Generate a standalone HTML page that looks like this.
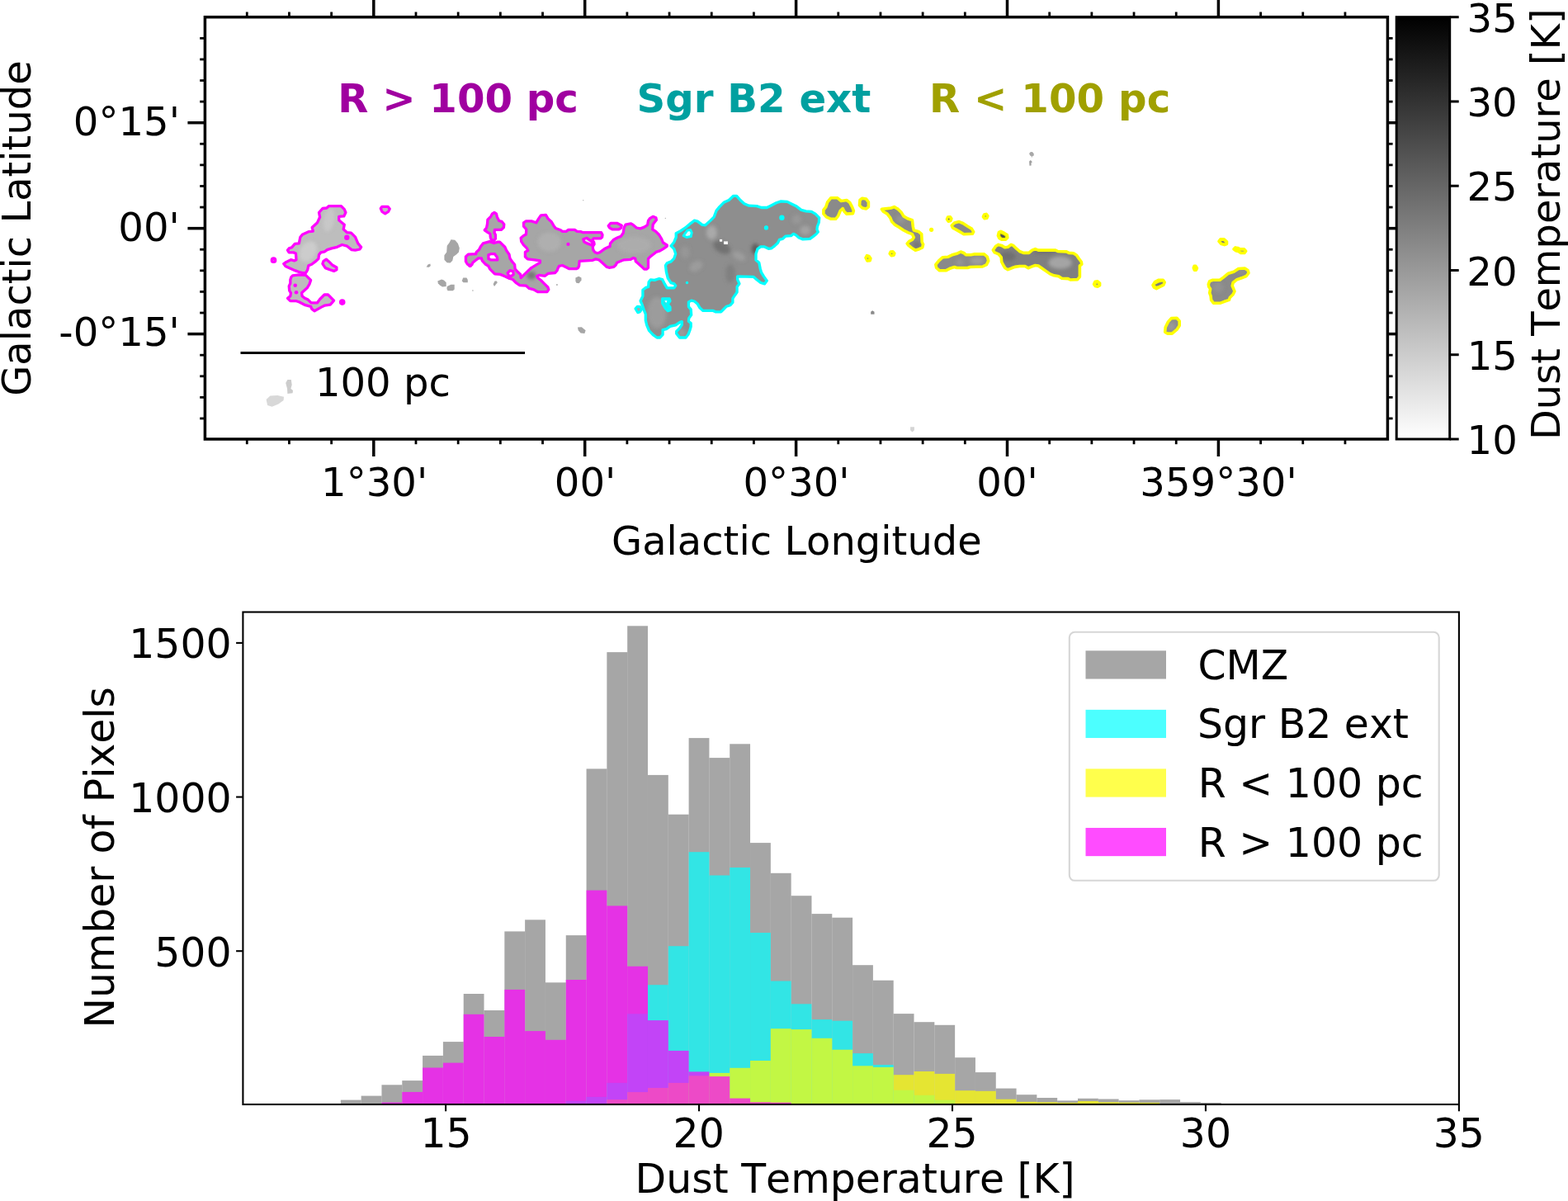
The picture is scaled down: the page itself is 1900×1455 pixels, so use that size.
<!DOCTYPE html>
<html lang="en">
<head>
<meta charset="utf-8">
<title>Dust temperature map and histogram</title>
<style>
html,body{margin:0;padding:0;background:#fff;}
body{width:1900px;height:1455px;overflow:hidden;}
svg{display:block;}
svg text{font-family:"DejaVu Sans","Liberation Sans",sans-serif;font-kerning:none;}
</style>
</head>
<body>
<svg width="1900" height="1455" viewBox="0 0 1900 1455">
<defs>
<linearGradient id="cbg" x1="0" y1="0" x2="0" y2="1">
<stop offset="0" stop-color="#000"/><stop offset="1" stop-color="#fff"/>
</linearGradient>
<filter id="soft" x="-5%" y="-5%" width="110%" height="110%"><feGaussianBlur stdDeviation="2.2"/></filter>
</defs>
<rect x="0" y="0" width="1900" height="1455" fill="#fff"/>
<g id="map">
<clipPath id="mapclip"><path d="M398.6,249.6 L413.4,249.6 L417.3,253.6 L418.9,257.5 L416.7,261.9 L410.7,262.4 L410.7,266.8 L417.3,272.3 L416.2,277.8 L420.6,281.7 L425.5,282.2 L430.5,287.2 L433.8,294.9 L437.6,299.3 L436.0,302.0 L430.5,303.1 L426.1,302.6 L420.6,298.2 L414.5,296.5 L408.5,299.3 L401.9,300.9 L396.4,302.6 L393.6,304.8 L388.7,305.9 L386.5,308.6 L385.9,313.6 L382.1,316.9 L377.7,320.2 L373.8,321.8 L372.7,326.8 L370.5,330.6 L366.7,330.6 L362.3,329.5 L357.9,327.9 L350.2,324.6 L345.8,322.4 L343.8,319.6 L346.9,317.4 L352.4,314.7 L356.8,315.8 L359.0,314.7 L358.4,307.0 L355.7,305.9 L350.2,305.9 L348.5,303.1 L350.2,300.9 L353.5,299.8 L357.3,295.4 L362.3,294.9 L363.9,287.2 L366.7,283.9 L374.4,280.6 L379.3,280.0 L378.2,275.6 L384.3,270.1 L387.6,263.0 L386.5,257.5 L390.9,252.5 L395.8,252.0Z"/><path d="M354.6,333.9 L362.3,332.8 L370.5,333.4 L376.6,339.4 L374.9,344.4 L372.2,348.8 L365.6,354.8 L366.1,358.7 L368.9,360.9 L373.3,363.1 L377.1,366.9 L384.3,366.9 L387.6,362.5 L393.1,357.0 L397.5,357.0 L404.6,364.2 L400.2,369.1 L393.1,370.2 L389.8,371.9 L381.0,376.8 L377.7,374.1 L376.6,371.3 L370.0,369.7 L362.3,365.8 L359.0,364.7 L351.8,364.7 L348.5,361.4 L351.8,358.7 L352.4,354.8 L350.7,352.1 L350.2,346.6 L351.8,343.3 L351.8,338.9 L352.9,335.6Z"/><path d="M461.3,252.5 L462.9,250.3 L470.0,250.3 L472.2,253.1 L470.6,256.4 L466.7,258.8 L462.9,256.4Z"/><path d="M390.9,319.6 L392.0,316.3 L395.3,314.1 L398.6,316.9 L403.0,321.3 L407.9,324.0 L407.9,326.8 L404.6,328.4 L399.7,326.8 L394.2,324.6Z"/><path d="M546.4,290.2 L551.2,290.7 L554.9,294.9 L556.8,300.6 L555.9,305.4 L553.1,308.2 L549.3,311.0 L548.3,315.8 L545.5,318.6 L541.7,318.2 L538.4,314.8 L538.4,309.2 L541.2,305.4 L541.7,297.8 L544.5,294.0Z"/><path d="M516.6,323.4 L518.5,320.5 L521.3,319.6 L521.8,321.9 L519.9,323.8Z"/><path d="M530.3,340.4 L535.1,338.5 L537.9,339.5 L540.7,342.3 L540.7,347.0 L536.0,347.5 L532.7,345.2 L530.8,343.3Z"/><path d="M541.7,347.0 L546.4,344.7 L550.7,344.7 L550.7,350.4 L548.8,352.3 L542.6,352.3 L541.4,349.9Z"/><path d="M561.1,336.6 L565.4,336.6 L566.8,339.0 L566.8,342.3 L561.6,342.3 L559.7,340.4Z"/><path d="M597.6,344.2 L599.5,340.4 L601.8,340.4 L602.8,342.3 L600.4,345.2 L599.0,347.0Z"/><path d="M697.4,336.6 L701.2,334.7 L704.5,336.6 L704.5,339.5 L701.6,343.3 L698.3,342.8 L697.4,340.4Z"/><path d="M599.0,257.5 L601.4,258.9 L602.3,262.7 L604.7,267.5 L608.0,268.4 L610.8,271.7 L610.4,275.5 L607.5,278.4 L599.5,278.4 L599.0,281.7 L600.4,284.5 L600.4,289.3 L598.5,291.6 L595.2,290.2 L594.3,287.4 L593.8,283.1 L590.5,281.2 L587.2,278.8 L589.5,276.0 L590.5,271.3 L590.9,266.1 L594.7,262.3 L596.6,258.9Z"/><path d="M653.5,333.3 L650.6,334.7 L651.6,336.6 L655.4,339.5 L659.2,343.3 L663.9,348.0 L664.8,350.8 L662.9,353.7 L651.6,353.7 L646.8,350.8 L641.2,349.4 L637.4,346.1 L629.8,345.6 L625.0,342.3 L621.3,338.5 L616.5,337.1 L611.8,334.7 L606.1,332.4 L599.5,331.9 L593.8,326.2 L591.9,322.4 L588.1,320.0 L584.3,315.8 L583.4,312.9 L579.6,312.9 L575.8,315.8 L572.9,318.2 L572.0,320.5 L569.6,322.4 L566.3,320.0 L564.4,316.7 L564.4,311.0 L567.3,308.2 L576.7,307.7 L577.2,305.4 L580.5,302.5 L582.4,298.7 L585.3,294.9 L593.3,292.6 L598.5,294.5 L603.3,293.1 L605.6,293.1 L611.8,299.2 L613.7,303.5 L617.0,308.2 L617.9,312.9 L620.3,316.7 L623.6,320.5 L624.1,325.7 L626.9,329.0 L630.7,332.4 L631.2,336.6 L635.5,332.4 L644.0,324.3 L654.4,318.2 L654.4,315.8 L647.8,314.8 L639.3,313.9 L636.4,311.0 L636.4,305.4 L639.7,303.5 L638.3,300.6 L634.5,296.8 L631.7,292.6 L631.2,288.3 L634.5,285.5 L637.4,284.1 L637.8,277.9 L634.5,274.1 L634.5,269.8 L637.4,267.9 L644.0,267.9 L649.7,269.8 L652.5,265.1 L655.4,260.8 L661.4,260.4 L664.2,265.1 L668.0,268.4 L670.8,273.2 L673.2,276.5 L679.4,278.8 L681.3,280.3 L686.0,280.3 L688.8,278.4 L696.4,278.4 L699.3,280.3 L704.0,280.7 L706.8,281.7 L728.6,281.7 L730.0,284.5 L729.6,287.4 L727.7,288.8 L719.2,288.8 L717.7,291.2 L719.6,293.1 L720.1,295.9 L718.2,298.7 L718.7,302.5 L720.6,305.4 L723.9,306.8 L726.7,305.8 L732.4,301.6 L737.2,299.2 L739.0,298.7 L739.5,294.9 L743.8,290.2 L748.5,287.8 L752.3,286.4 L755.2,282.2 L756.1,276.0 L758.0,272.2 L764.6,270.8 L767.5,272.7 L771.3,276.0 L776.0,276.9 L780.7,275.1 L784.5,272.7 L785.5,267.5 L787.4,264.6 L791.2,262.3 L794.9,263.7 L795.4,266.5 L793.0,269.4 L791.2,272.2 L790.7,277.9 L794.9,280.7 L798.7,284.5 L801.6,289.3 L803.5,294.0 L808.2,296.8 L808.2,298.3 L803.5,301.6 L799.7,303.9 L794.9,305.4 L792.1,307.7 L788.3,310.6 L785.5,313.4 L785.5,324.3 L783.6,326.2 L780.7,326.2 L776.9,322.4 L772.2,318.2 L770.3,316.7 L769.8,313.4 L767.5,312.5 L763.7,314.4 L756.1,314.8 L752.3,316.3 L747.6,318.2 L746.2,321.0 L743.8,323.4 L738.1,324.3 L735.3,323.4 L730.5,319.1 L725.8,314.8 L722.0,313.9 L718.2,315.3 L702.1,316.3 L701.6,322.4 L700.2,324.8 L698.3,325.7 L689.8,325.7 L686.0,323.8 L681.3,321.5 L677.5,322.4 L676.1,324.8 L675.1,327.6 L672.7,330.5 L664.2,331.4 L660.4,334.3Z"/><path d="M737.2,273.6 L740.0,270.3 L747.6,270.3 L753.3,273.2 L752.3,276.5 L749.5,277.9 L741.9,277.9 L738.6,276.0Z"/><path d="M806.4,321.6 L808.3,318.8 L813.1,316.9 L816.8,313.1 L818.7,307.4 L816.8,301.7 L813.1,297.9 L816.8,293.2 L819.2,287.5 L819.2,282.8 L824.4,279.9 L830.1,276.2 L835.8,271.4 L841.5,267.2 L845.3,268.1 L850.9,272.4 L854.7,272.8 L860.4,267.6 L865.2,262.9 L868.0,255.3 L871.8,250.6 L877.5,244.9 L883.2,242.5 L888.8,237.3 L892.6,237.3 L897.1,242.5 L901.8,246.8 L907.5,249.2 L916.9,249.6 L922.6,251.5 L929.3,251.5 L934.9,248.7 L940.6,245.8 L946.3,243.9 L953.9,244.4 L959.6,247.3 L965.3,250.1 L970.9,254.4 L976.6,255.8 L983.3,256.3 L988.0,259.1 L992.7,263.8 L992.3,269.5 L990.4,274.3 L989.9,278.1 L991.3,280.9 L988.9,283.7 L985.2,286.6 L981.4,289.4 L972.8,289.9 L968.1,288.0 L964.3,284.7 L961.5,283.3 L958.6,285.6 L952.0,286.1 L948.2,289.4 L944.4,290.4 L942.5,294.2 L938.7,297.9 L934.9,300.8 L931.2,301.3 L926.4,298.9 L921.7,298.9 L917.9,301.7 L916.0,307.4 L916.0,315.0 L919.8,318.3 L921.2,325.4 L922.6,330.2 L925.5,334.9 L929.3,340.1 L926.4,343.9 L921.7,342.5 L916.9,338.7 L913.2,335.4 L893.7,334.9 L893.6,338.5 L895.9,343.7 L893.1,347.5 L893.1,354.1 L890.3,357.9 L887.9,361.7 L887.9,366.4 L885.0,369.7 L880.3,371.2 L877.5,374.0 L873.7,377.8 L867.0,377.8 L864.2,376.4 L851.9,376.4 L848.1,373.1 L845.3,368.3 L841.5,365.0 L837.7,364.1 L834.4,365.9 L834.4,371.6 L837.2,374.9 L837.7,381.6 L834.8,385.4 L834.4,389.2 L837.2,391.5 L837.2,395.8 L835.8,400.5 L833.9,405.3 L831.0,409.0 L823.5,409.0 L819.7,404.3 L819.7,401.5 L823.5,397.7 L826.3,393.4 L826.3,389.6 L823.5,390.6 L818.7,393.9 L812.1,395.3 L807.4,398.6 L803.1,399.6 L803.1,405.3 L799.8,409.0 L796.0,409.0 L791.3,405.7 L786.5,400.5 L783.7,393.9 L782.3,388.2 L782.3,380.6 L780.4,375.9 L778.5,370.2 L776.1,364.5 L778.9,358.8 L778.9,351.3 L782.7,348.4 L785.6,347.5 L786.1,341.8 L788.4,338.9 L793.2,339.4 L798.8,337.5 L802.6,338.5 L805.5,344.2 L808.3,348.9 L816.8,348.9 L818.7,346.1 L816.8,343.7 L813.1,342.7 L809.3,337.1 L807.4,329.5Z"/><path d="M769.9,374.0 L772.3,371.2 L775.6,371.6 L777.5,374.9 L775.6,377.8 L772.8,378.7Z"/><path d="M802.6,361.7 L811.2,361.7 L812.1,364.5 L809.3,368.3 L812.1,372.1 L812.1,375.9 L809.3,376.8 L806.4,374.0 L802.6,367.4Z"/><path d="M1006.9,239.7 L1014.5,239.7 L1019.3,243.5 L1025.9,242.5 L1029.7,245.4 L1032.5,250.6 L1034.4,255.3 L1033.5,258.6 L1025.9,259.1 L1023.0,256.3 L1021.2,252.5 L1018.3,255.3 L1015.5,261.9 L1012.6,265.3 L1006.9,265.3 L1001.3,262.9 L997.9,259.1 L997.9,254.4 L1000.8,250.6 L1002.7,244.9Z"/><path d="M1042.0,242.5 L1044.8,240.2 L1049.6,241.1 L1052.4,244.9 L1052.4,250.6 L1049.6,252.9 L1044.8,252.0 L1041.5,248.7Z"/><path d="M1049.0,312.3 L1050.5,309.7 L1053.1,310.5 L1054.9,313.0 L1054.2,315.6 L1050.9,316.0Z"/><path d="M1068.4,253.4 L1079.8,252.0 L1083.6,250.6 L1088.3,253.4 L1092.1,257.2 L1094.9,261.9 L1099.7,264.8 L1105.4,266.7 L1106.3,274.3 L1107.3,279.0 L1112.9,280.4 L1116.7,283.7 L1117.2,293.2 L1118.6,296.0 L1117.7,299.8 L1113.9,301.7 L1109.2,303.2 L1105.4,300.8 L1100.6,297.0 L1099.2,295.1 L1101.6,292.3 L1105.4,290.4 L1107.3,287.5 L1105.4,283.7 L1100.6,281.8 L1094.9,279.0 L1089.3,275.2 L1084.5,272.4 L1080.7,268.6 L1078.8,263.8 L1075.1,259.1 L1070.3,256.3Z"/><path d="M1147.4,265.6 L1148.5,263.1 L1151.4,262.7 L1152.9,264.9 L1151.8,267.5 L1149.2,268.2Z"/><path d="M1191.4,262.7 L1192.5,260.1 L1195.1,259.4 L1196.9,261.6 L1195.8,264.2 L1192.9,264.6Z"/><path d="M1153.2,273.3 L1156.5,270.0 L1162.2,268.6 L1166.9,270.5 L1172.6,274.3 L1177.4,277.1 L1179.7,280.9 L1178.3,283.3 L1167.9,283.7 L1163.2,280.9 L1158.4,278.1 L1154.6,276.2Z"/><path d="M1133.8,320.7 L1137.6,315.9 L1142.3,311.7 L1148.9,311.2 L1153.7,308.8 L1160.3,306.9 L1164.1,305.0 L1167.9,306.5 L1170.7,308.8 L1176.4,308.8 L1180.2,307.9 L1192.5,307.9 L1196.3,311.2 L1197.7,315.9 L1195.4,320.7 L1190.6,323.0 L1175.5,323.5 L1172.6,324.5 L1159.4,324.5 L1156.5,323.5 L1151.8,324.9 L1146.1,327.8 L1138.5,327.8 L1134.7,324.5Z"/><path d="M1078.2,307.4 L1079.3,305.1 L1081.9,304.8 L1083.8,307.0 L1083.0,309.2 L1080.1,309.6Z"/><path d="M1209.4,285.5 L1210.4,281.3 L1212.7,280.3 L1216.5,282.2 L1220.3,284.6 L1220.8,287.9 L1218.4,290.3 L1213.7,290.3 L1210.8,288.4Z"/><path d="M1212.3,283.6 L1216.1,285.1 L1217.9,286.5 L1217.7,288.1 L1214.2,287.7 L1212.5,286.0Z"/><path d="M1203.3,303.1 L1206.6,298.3 L1209.9,296.4 L1213.7,297.4 L1217.5,299.7 L1221.3,299.3 L1225.1,296.4 L1227.9,297.4 L1231.7,301.2 L1235.5,304.5 L1240.2,306.4 L1246.8,306.4 L1250.6,303.1 L1254.4,301.6 L1258.2,303.1 L1279.0,303.1 L1281.9,304.5 L1292.3,304.9 L1295.2,306.4 L1300.8,306.8 L1304.6,309.2 L1307.5,313.5 L1310.3,317.3 L1310.8,320.1 L1308.4,322.0 L1308.4,335.3 L1305.6,338.6 L1297.0,339.0 L1294.2,337.6 L1286.6,337.2 L1282.8,334.8 L1277.2,333.8 L1272.4,331.9 L1267.7,328.6 L1262.9,325.3 L1258.2,322.0 L1254.4,321.5 L1250.6,322.9 L1245.9,324.8 L1242.1,322.5 L1235.5,322.5 L1229.8,323.4 L1226.0,324.8 L1221.3,326.7 L1217.9,324.8 L1215.6,321.0 L1213.7,317.3 L1213.2,311.6 L1209.9,307.8 L1205.2,305.9Z"/><path d="M1325.6,344.2 L1327.0,341.3 L1330.0,340.9 L1332.6,343.1 L1332.6,345.7 L1330.0,347.2 L1327.0,346.4Z"/><path d="M1477.0,292.3 L1478.9,289.9 L1483.2,289.9 L1486.5,292.8 L1486.5,295.6 L1483.7,296.6 L1479.9,295.6Z"/><path d="M1478.9,292.3 L1482.3,292.1 L1484.6,294.2 L1481.8,294.7Z"/><path d="M1495.0,301.8 L1496.9,299.9 L1499.8,300.4 L1502.6,301.8 L1507.4,301.8 L1509.7,304.2 L1507.8,306.5 L1503.6,306.5 L1500.7,304.6 L1497.4,303.7Z"/><path d="M1502.6,303.4 L1507.4,303.4 L1507.4,304.8 L1503.1,304.8Z"/><path d="M1446.3,324.6 L1447.1,322.4 L1448.9,322.4 L1450.4,324.9 L1449.3,327.2 L1447.4,327.2Z"/><path d="M1397.0,345.4 L1399.4,341.6 L1404.1,339.2 L1409.3,339.2 L1411.2,342.1 L1409.8,345.4 L1405.1,347.7 L1401.3,349.6 L1398.4,348.2Z"/><path d="M1399.4,344.9 L1404.1,342.5 L1408.8,341.6 L1409.3,343.5 L1405.1,345.4 L1401.3,346.8Z"/><path d="M1464.3,344.4 L1465.7,340.6 L1469.5,339.2 L1478.0,339.2 L1482.7,335.9 L1488.4,331.2 L1495.0,329.3 L1500.7,325.5 L1508.3,325.0 L1512.1,327.4 L1513.0,330.7 L1510.2,334.5 L1504.5,336.8 L1498.8,338.7 L1494.1,342.5 L1493.2,346.3 L1496.0,352.9 L1494.1,356.7 L1490.3,360.5 L1489.4,363.4 L1483.7,365.3 L1478.9,367.2 L1470.4,367.2 L1467.6,363.4 L1467.1,358.6 L1465.7,354.8 L1466.6,350.1 L1464.7,347.3Z"/><path d="M1411.7,402.2 L1412.2,396.5 L1415.5,389.9 L1419.3,385.6 L1425.9,385.2 L1429.2,388.9 L1429.2,394.6 L1425.9,399.4 L1420.2,404.1 L1414.5,404.1Z"/><path d="M700.0,396.6 L704.8,396.2 L709.6,400.3 L708.4,403.9 L703.6,403.4 L700.7,400.3Z"/><path d="M1055.2,377.7 L1057.1,376.3 L1059.5,377.7 L1059.5,380.7 L1055.2,380.7Z"/><path d="M1103.1,517.2 L1107.9,517.2 L1107.9,521.3 L1105.5,523.5 L1103.1,521.3Z"/><path d="M1247.1,186.0 L1248.5,184.2 L1250.9,184.1 L1252.8,186.3 L1252.6,188.7 L1250.9,189.1 L1250.8,190.6 L1249.9,190.6 L1249.7,189.1 L1248.2,188.4Z"/><path d="M1247.1,195.6 L1248.9,194.0 L1250.9,196.3 L1249.6,197.3 L1249.6,200.4 L1247.5,200.7Z"/><path d="M322.6,484.0 L327.4,479.6 L336.3,479.1 L344.0,480.7 L343.6,485.1 L337.4,489.5 L329.6,492.8 L324.1,491.1Z"/><path d="M346.2,464.1 L348.4,460.1 L352.8,460.1 L353.7,466.3 L352.4,470.7 L355.0,472.9 L354.6,476.3 L348.4,476.9 L348.0,470.7Z"/></clipPath>
<g id="mapfill"><path d="M398.6,249.6 L413.4,249.6 L417.3,253.6 L418.9,257.5 L416.7,261.9 L410.7,262.4 L410.7,266.8 L417.3,272.3 L416.2,277.8 L420.6,281.7 L425.5,282.2 L430.5,287.2 L433.8,294.9 L437.6,299.3 L436.0,302.0 L430.5,303.1 L426.1,302.6 L420.6,298.2 L414.5,296.5 L408.5,299.3 L401.9,300.9 L396.4,302.6 L393.6,304.8 L388.7,305.9 L386.5,308.6 L385.9,313.6 L382.1,316.9 L377.7,320.2 L373.8,321.8 L372.7,326.8 L370.5,330.6 L366.7,330.6 L362.3,329.5 L357.9,327.9 L350.2,324.6 L345.8,322.4 L343.8,319.6 L346.9,317.4 L352.4,314.7 L356.8,315.8 L359.0,314.7 L358.4,307.0 L355.7,305.9 L350.2,305.9 L348.5,303.1 L350.2,300.9 L353.5,299.8 L357.3,295.4 L362.3,294.9 L363.9,287.2 L366.7,283.9 L374.4,280.6 L379.3,280.0 L378.2,275.6 L384.3,270.1 L387.6,263.0 L386.5,257.5 L390.9,252.5 L395.8,252.0Z" fill="#bdbdbd"/>
<path d="M354.6,333.9 L362.3,332.8 L370.5,333.4 L376.6,339.4 L374.9,344.4 L372.2,348.8 L365.6,354.8 L366.1,358.7 L368.9,360.9 L373.3,363.1 L377.1,366.9 L384.3,366.9 L387.6,362.5 L393.1,357.0 L397.5,357.0 L404.6,364.2 L400.2,369.1 L393.1,370.2 L389.8,371.9 L381.0,376.8 L377.7,374.1 L376.6,371.3 L370.0,369.7 L362.3,365.8 L359.0,364.7 L351.8,364.7 L348.5,361.4 L351.8,358.7 L352.4,354.8 L350.7,352.1 L350.2,346.6 L351.8,343.3 L351.8,338.9 L352.9,335.6Z" fill="#bdbdbd"/>
<path d="M461.3,252.5 L462.9,250.3 L470.0,250.3 L472.2,253.1 L470.6,256.4 L466.7,258.8 L462.9,256.4Z" fill="#bdbdbd"/>
<path d="M390.9,319.6 L392.0,316.3 L395.3,314.1 L398.6,316.9 L403.0,321.3 L407.9,324.0 L407.9,326.8 L404.6,328.4 L399.7,326.8 L394.2,324.6Z" fill="#bdbdbd"/>
<path d="M546.4,290.2 L551.2,290.7 L554.9,294.9 L556.8,300.6 L555.9,305.4 L553.1,308.2 L549.3,311.0 L548.3,315.8 L545.5,318.6 L541.7,318.2 L538.4,314.8 L538.4,309.2 L541.2,305.4 L541.7,297.8 L544.5,294.0Z" fill="#a6a6a6"/>
<path d="M516.6,323.4 L518.5,320.5 L521.3,319.6 L521.8,321.9 L519.9,323.8Z" fill="#a6a6a6"/>
<path d="M530.3,340.4 L535.1,338.5 L537.9,339.5 L540.7,342.3 L540.7,347.0 L536.0,347.5 L532.7,345.2 L530.8,343.3Z" fill="#a6a6a6"/>
<path d="M541.7,347.0 L546.4,344.7 L550.7,344.7 L550.7,350.4 L548.8,352.3 L542.6,352.3 L541.4,349.9Z" fill="#a6a6a6"/>
<path d="M561.1,336.6 L565.4,336.6 L566.8,339.0 L566.8,342.3 L561.6,342.3 L559.7,340.4Z" fill="#a6a6a6"/>
<path d="M597.6,344.2 L599.5,340.4 L601.8,340.4 L602.8,342.3 L600.4,345.2 L599.0,347.0Z" fill="#a6a6a6"/>
<path d="M697.4,336.6 L701.2,334.7 L704.5,336.6 L704.5,339.5 L701.6,343.3 L698.3,342.8 L697.4,340.4Z" fill="#a6a6a6"/>
<path d="M599.0,257.5 L601.4,258.9 L602.3,262.7 L604.7,267.5 L608.0,268.4 L610.8,271.7 L610.4,275.5 L607.5,278.4 L599.5,278.4 L599.0,281.7 L600.4,284.5 L600.4,289.3 L598.5,291.6 L595.2,290.2 L594.3,287.4 L593.8,283.1 L590.5,281.2 L587.2,278.8 L589.5,276.0 L590.5,271.3 L590.9,266.1 L594.7,262.3 L596.6,258.9Z" fill="#a6a6a6"/>
<path d="M653.5,333.3 L650.6,334.7 L651.6,336.6 L655.4,339.5 L659.2,343.3 L663.9,348.0 L664.8,350.8 L662.9,353.7 L651.6,353.7 L646.8,350.8 L641.2,349.4 L637.4,346.1 L629.8,345.6 L625.0,342.3 L621.3,338.5 L616.5,337.1 L611.8,334.7 L606.1,332.4 L599.5,331.9 L593.8,326.2 L591.9,322.4 L588.1,320.0 L584.3,315.8 L583.4,312.9 L579.6,312.9 L575.8,315.8 L572.9,318.2 L572.0,320.5 L569.6,322.4 L566.3,320.0 L564.4,316.7 L564.4,311.0 L567.3,308.2 L576.7,307.7 L577.2,305.4 L580.5,302.5 L582.4,298.7 L585.3,294.9 L593.3,292.6 L598.5,294.5 L603.3,293.1 L605.6,293.1 L611.8,299.2 L613.7,303.5 L617.0,308.2 L617.9,312.9 L620.3,316.7 L623.6,320.5 L624.1,325.7 L626.9,329.0 L630.7,332.4 L631.2,336.6 L635.5,332.4 L644.0,324.3 L654.4,318.2 L654.4,315.8 L647.8,314.8 L639.3,313.9 L636.4,311.0 L636.4,305.4 L639.7,303.5 L638.3,300.6 L634.5,296.8 L631.7,292.6 L631.2,288.3 L634.5,285.5 L637.4,284.1 L637.8,277.9 L634.5,274.1 L634.5,269.8 L637.4,267.9 L644.0,267.9 L649.7,269.8 L652.5,265.1 L655.4,260.8 L661.4,260.4 L664.2,265.1 L668.0,268.4 L670.8,273.2 L673.2,276.5 L679.4,278.8 L681.3,280.3 L686.0,280.3 L688.8,278.4 L696.4,278.4 L699.3,280.3 L704.0,280.7 L706.8,281.7 L728.6,281.7 L730.0,284.5 L729.6,287.4 L727.7,288.8 L719.2,288.8 L717.7,291.2 L719.6,293.1 L720.1,295.9 L718.2,298.7 L718.7,302.5 L720.6,305.4 L723.9,306.8 L726.7,305.8 L732.4,301.6 L737.2,299.2 L739.0,298.7 L739.5,294.9 L743.8,290.2 L748.5,287.8 L752.3,286.4 L755.2,282.2 L756.1,276.0 L758.0,272.2 L764.6,270.8 L767.5,272.7 L771.3,276.0 L776.0,276.9 L780.7,275.1 L784.5,272.7 L785.5,267.5 L787.4,264.6 L791.2,262.3 L794.9,263.7 L795.4,266.5 L793.0,269.4 L791.2,272.2 L790.7,277.9 L794.9,280.7 L798.7,284.5 L801.6,289.3 L803.5,294.0 L808.2,296.8 L808.2,298.3 L803.5,301.6 L799.7,303.9 L794.9,305.4 L792.1,307.7 L788.3,310.6 L785.5,313.4 L785.5,324.3 L783.6,326.2 L780.7,326.2 L776.9,322.4 L772.2,318.2 L770.3,316.7 L769.8,313.4 L767.5,312.5 L763.7,314.4 L756.1,314.8 L752.3,316.3 L747.6,318.2 L746.2,321.0 L743.8,323.4 L738.1,324.3 L735.3,323.4 L730.5,319.1 L725.8,314.8 L722.0,313.9 L718.2,315.3 L702.1,316.3 L701.6,322.4 L700.2,324.8 L698.3,325.7 L689.8,325.7 L686.0,323.8 L681.3,321.5 L677.5,322.4 L676.1,324.8 L675.1,327.6 L672.7,330.5 L664.2,331.4 L660.4,334.3Z" fill="#a6a6a6"/>
<path d="M737.2,273.6 L740.0,270.3 L747.6,270.3 L753.3,273.2 L752.3,276.5 L749.5,277.9 L741.9,277.9 L738.6,276.0Z" fill="#a6a6a6"/>
<path d="M806.4,321.6 L808.3,318.8 L813.1,316.9 L816.8,313.1 L818.7,307.4 L816.8,301.7 L813.1,297.9 L816.8,293.2 L819.2,287.5 L819.2,282.8 L824.4,279.9 L830.1,276.2 L835.8,271.4 L841.5,267.2 L845.3,268.1 L850.9,272.4 L854.7,272.8 L860.4,267.6 L865.2,262.9 L868.0,255.3 L871.8,250.6 L877.5,244.9 L883.2,242.5 L888.8,237.3 L892.6,237.3 L897.1,242.5 L901.8,246.8 L907.5,249.2 L916.9,249.6 L922.6,251.5 L929.3,251.5 L934.9,248.7 L940.6,245.8 L946.3,243.9 L953.9,244.4 L959.6,247.3 L965.3,250.1 L970.9,254.4 L976.6,255.8 L983.3,256.3 L988.0,259.1 L992.7,263.8 L992.3,269.5 L990.4,274.3 L989.9,278.1 L991.3,280.9 L988.9,283.7 L985.2,286.6 L981.4,289.4 L972.8,289.9 L968.1,288.0 L964.3,284.7 L961.5,283.3 L958.6,285.6 L952.0,286.1 L948.2,289.4 L944.4,290.4 L942.5,294.2 L938.7,297.9 L934.9,300.8 L931.2,301.3 L926.4,298.9 L921.7,298.9 L917.9,301.7 L916.0,307.4 L916.0,315.0 L919.8,318.3 L921.2,325.4 L922.6,330.2 L925.5,334.9 L929.3,340.1 L926.4,343.9 L921.7,342.5 L916.9,338.7 L913.2,335.4 L893.7,334.9 L893.6,338.5 L895.9,343.7 L893.1,347.5 L893.1,354.1 L890.3,357.9 L887.9,361.7 L887.9,366.4 L885.0,369.7 L880.3,371.2 L877.5,374.0 L873.7,377.8 L867.0,377.8 L864.2,376.4 L851.9,376.4 L848.1,373.1 L845.3,368.3 L841.5,365.0 L837.7,364.1 L834.4,365.9 L834.4,371.6 L837.2,374.9 L837.7,381.6 L834.8,385.4 L834.4,389.2 L837.2,391.5 L837.2,395.8 L835.8,400.5 L833.9,405.3 L831.0,409.0 L823.5,409.0 L819.7,404.3 L819.7,401.5 L823.5,397.7 L826.3,393.4 L826.3,389.6 L823.5,390.6 L818.7,393.9 L812.1,395.3 L807.4,398.6 L803.1,399.6 L803.1,405.3 L799.8,409.0 L796.0,409.0 L791.3,405.7 L786.5,400.5 L783.7,393.9 L782.3,388.2 L782.3,380.6 L780.4,375.9 L778.5,370.2 L776.1,364.5 L778.9,358.8 L778.9,351.3 L782.7,348.4 L785.6,347.5 L786.1,341.8 L788.4,338.9 L793.2,339.4 L798.8,337.5 L802.6,338.5 L805.5,344.2 L808.3,348.9 L816.8,348.9 L818.7,346.1 L816.8,343.7 L813.1,342.7 L809.3,337.1 L807.4,329.5Z" fill="#8e8e8e"/>
<path d="M769.9,374.0 L772.3,371.2 L775.6,371.6 L777.5,374.9 L775.6,377.8 L772.8,378.7Z" fill="#a6a6a6"/>
<path d="M802.6,361.7 L811.2,361.7 L812.1,364.5 L809.3,368.3 L812.1,372.1 L812.1,375.9 L809.3,376.8 L806.4,374.0 L802.6,367.4Z" fill="#00ffff"/>
<path d="M1006.9,239.7 L1014.5,239.7 L1019.3,243.5 L1025.9,242.5 L1029.7,245.4 L1032.5,250.6 L1034.4,255.3 L1033.5,258.6 L1025.9,259.1 L1023.0,256.3 L1021.2,252.5 L1018.3,255.3 L1015.5,261.9 L1012.6,265.3 L1006.9,265.3 L1001.3,262.9 L997.9,259.1 L997.9,254.4 L1000.8,250.6 L1002.7,244.9Z" fill="#8a8a8a"/>
<path d="M1042.0,242.5 L1044.8,240.2 L1049.6,241.1 L1052.4,244.9 L1052.4,250.6 L1049.6,252.9 L1044.8,252.0 L1041.5,248.7Z" fill="#8a8a8a"/>
<path d="M1049.0,312.3 L1050.5,309.7 L1053.1,310.5 L1054.9,313.0 L1054.2,315.6 L1050.9,316.0Z" fill="#ffff00"/>
<path d="M1068.4,253.4 L1079.8,252.0 L1083.6,250.6 L1088.3,253.4 L1092.1,257.2 L1094.9,261.9 L1099.7,264.8 L1105.4,266.7 L1106.3,274.3 L1107.3,279.0 L1112.9,280.4 L1116.7,283.7 L1117.2,293.2 L1118.6,296.0 L1117.7,299.8 L1113.9,301.7 L1109.2,303.2 L1105.4,300.8 L1100.6,297.0 L1099.2,295.1 L1101.6,292.3 L1105.4,290.4 L1107.3,287.5 L1105.4,283.7 L1100.6,281.8 L1094.9,279.0 L1089.3,275.2 L1084.5,272.4 L1080.7,268.6 L1078.8,263.8 L1075.1,259.1 L1070.3,256.3Z" fill="#8a8a8a"/>
<path d="M1147.4,265.6 L1148.5,263.1 L1151.4,262.7 L1152.9,264.9 L1151.8,267.5 L1149.2,268.2Z" fill="#ffff00"/>
<path d="M1191.4,262.7 L1192.5,260.1 L1195.1,259.4 L1196.9,261.6 L1195.8,264.2 L1192.9,264.6Z" fill="#ffff00"/>
<path d="M1153.2,273.3 L1156.5,270.0 L1162.2,268.6 L1166.9,270.5 L1172.6,274.3 L1177.4,277.1 L1179.7,280.9 L1178.3,283.3 L1167.9,283.7 L1163.2,280.9 L1158.4,278.1 L1154.6,276.2Z" fill="#8a8a8a"/>
<path d="M1133.8,320.7 L1137.6,315.9 L1142.3,311.7 L1148.9,311.2 L1153.7,308.8 L1160.3,306.9 L1164.1,305.0 L1167.9,306.5 L1170.7,308.8 L1176.4,308.8 L1180.2,307.9 L1192.5,307.9 L1196.3,311.2 L1197.7,315.9 L1195.4,320.7 L1190.6,323.0 L1175.5,323.5 L1172.6,324.5 L1159.4,324.5 L1156.5,323.5 L1151.8,324.9 L1146.1,327.8 L1138.5,327.8 L1134.7,324.5Z" fill="#8a8a8a"/>
<path d="M1078.2,307.4 L1079.3,305.1 L1081.9,304.8 L1083.8,307.0 L1083.0,309.2 L1080.1,309.6Z" fill="#ffff00"/>
<path d="M1209.4,285.5 L1210.4,281.3 L1212.7,280.3 L1216.5,282.2 L1220.3,284.6 L1220.8,287.9 L1218.4,290.3 L1213.7,290.3 L1210.8,288.4Z" fill="#d8d800"/>
<path d="M1212.3,283.6 L1216.1,285.1 L1217.9,286.5 L1217.7,288.1 L1214.2,287.7 L1212.5,286.0Z" fill="#505050"/>
<path d="M1203.3,303.1 L1206.6,298.3 L1209.9,296.4 L1213.7,297.4 L1217.5,299.7 L1221.3,299.3 L1225.1,296.4 L1227.9,297.4 L1231.7,301.2 L1235.5,304.5 L1240.2,306.4 L1246.8,306.4 L1250.6,303.1 L1254.4,301.6 L1258.2,303.1 L1279.0,303.1 L1281.9,304.5 L1292.3,304.9 L1295.2,306.4 L1300.8,306.8 L1304.6,309.2 L1307.5,313.5 L1310.3,317.3 L1310.8,320.1 L1308.4,322.0 L1308.4,335.3 L1305.6,338.6 L1297.0,339.0 L1294.2,337.6 L1286.6,337.2 L1282.8,334.8 L1277.2,333.8 L1272.4,331.9 L1267.7,328.6 L1262.9,325.3 L1258.2,322.0 L1254.4,321.5 L1250.6,322.9 L1245.9,324.8 L1242.1,322.5 L1235.5,322.5 L1229.8,323.4 L1226.0,324.8 L1221.3,326.7 L1217.9,324.8 L1215.6,321.0 L1213.7,317.3 L1213.2,311.6 L1209.9,307.8 L1205.2,305.9Z" fill="#808080"/>
<path d="M1325.6,344.2 L1327.0,341.3 L1330.0,340.9 L1332.6,343.1 L1332.6,345.7 L1330.0,347.2 L1327.0,346.4Z" fill="#ffff00"/>
<path d="M1477.0,292.3 L1478.9,289.9 L1483.2,289.9 L1486.5,292.8 L1486.5,295.6 L1483.7,296.6 L1479.9,295.6Z" fill="#ffff00"/>
<path d="M1478.9,292.3 L1482.3,292.1 L1484.6,294.2 L1481.8,294.7Z" fill="#777"/>
<path d="M1495.0,301.8 L1496.9,299.9 L1499.8,300.4 L1502.6,301.8 L1507.4,301.8 L1509.7,304.2 L1507.8,306.5 L1503.6,306.5 L1500.7,304.6 L1497.4,303.7Z" fill="#ffff00"/>
<path d="M1502.6,303.4 L1507.4,303.4 L1507.4,304.8 L1503.1,304.8Z" fill="#888"/>
<path d="M1446.3,324.6 L1447.1,322.4 L1448.9,322.4 L1450.4,324.9 L1449.3,327.2 L1447.4,327.2Z" fill="#ffff00"/>
<path d="M1397.0,345.4 L1399.4,341.6 L1404.1,339.2 L1409.3,339.2 L1411.2,342.1 L1409.8,345.4 L1405.1,347.7 L1401.3,349.6 L1398.4,348.2Z" fill="#ffff00"/>
<path d="M1399.4,344.9 L1404.1,342.5 L1408.8,341.6 L1409.3,343.5 L1405.1,345.4 L1401.3,346.8Z" fill="#7c7c7c"/>
<path d="M1464.3,344.4 L1465.7,340.6 L1469.5,339.2 L1478.0,339.2 L1482.7,335.9 L1488.4,331.2 L1495.0,329.3 L1500.7,325.5 L1508.3,325.0 L1512.1,327.4 L1513.0,330.7 L1510.2,334.5 L1504.5,336.8 L1498.8,338.7 L1494.1,342.5 L1493.2,346.3 L1496.0,352.9 L1494.1,356.7 L1490.3,360.5 L1489.4,363.4 L1483.7,365.3 L1478.9,367.2 L1470.4,367.2 L1467.6,363.4 L1467.1,358.6 L1465.7,354.8 L1466.6,350.1 L1464.7,347.3Z" fill="#8a8a8a"/>
<path d="M1411.7,402.2 L1412.2,396.5 L1415.5,389.9 L1419.3,385.6 L1425.9,385.2 L1429.2,388.9 L1429.2,394.6 L1425.9,399.4 L1420.2,404.1 L1414.5,404.1Z" fill="#8c8c8c"/>
<path d="M700.0,396.6 L704.8,396.2 L709.6,400.3 L708.4,403.9 L703.6,403.4 L700.7,400.3Z" fill="#a6a6a6"/>
<path d="M1055.2,377.7 L1057.1,376.3 L1059.5,377.7 L1059.5,380.7 L1055.2,380.7Z" fill="#8a8a8a"/>
<path d="M1103.1,517.2 L1107.9,517.2 L1107.9,521.3 L1105.5,523.5 L1103.1,521.3Z" fill="#d4d4d4"/>
<path d="M1247.1,186.0 L1248.5,184.2 L1250.9,184.1 L1252.8,186.3 L1252.6,188.7 L1250.9,189.1 L1250.8,190.6 L1249.9,190.6 L1249.7,189.1 L1248.2,188.4Z" fill="#a8a8a8"/>
<path d="M1247.1,195.6 L1248.9,194.0 L1250.9,196.3 L1249.6,197.3 L1249.6,200.4 L1247.5,200.7Z" fill="#a0a0a0"/>
<path d="M322.6,484.0 L327.4,479.6 L336.3,479.1 L344.0,480.7 L343.6,485.1 L337.4,489.5 L329.6,492.8 L324.1,491.1Z" fill="#d8d8d8"/>
<path d="M346.2,464.1 L348.4,460.1 L352.8,460.1 L353.7,466.3 L352.4,470.7 L355.0,472.9 L354.6,476.3 L348.4,476.9 L348.0,470.7Z" fill="#cccccc"/></g>
<g clip-path="url(#mapclip)"><g filter="url(#soft)"><ellipse cx="373.3" cy="304.8" rx="9.9" ry="13.2" fill="#d0d0d0" opacity="0.8" transform="rotate(30 373.3 304.8)"/>
<ellipse cx="398.6" cy="266.3" rx="6.6" ry="14.3" fill="#cacaca" opacity="0.8" transform="rotate(10 398.6 266.3)"/>
<ellipse cx="644.0" cy="333.8" rx="5.7" ry="4.7" fill="#707070" opacity="0.9" transform="rotate(0 644.0 333.8)"/>
<ellipse cx="665.8" cy="293.1" rx="14.2" ry="11.4" fill="#b4b4b4" opacity="0.7" transform="rotate(0 665.8 293.1)"/>
<ellipse cx="768.4" cy="296.8" rx="20.8" ry="10.4" fill="#b0b0b0" opacity="0.6" transform="rotate(0 768.4 296.8)"/>
<ellipse cx="862.3" cy="281.8" rx="6.6" ry="8.5" fill="#b0b0b0" opacity="0.8" transform="rotate(0 862.3 281.8)"/>
<ellipse cx="874.6" cy="299.8" rx="11.4" ry="6.6" fill="#6c6c6c" opacity="0.8" transform="rotate(30 874.6 299.8)"/>
<ellipse cx="915.4" cy="301.7" rx="4.7" ry="6.6" fill="#585858" opacity="0.9" transform="rotate(0 915.4 301.7)"/>
<ellipse cx="895.5" cy="310.3" rx="8.5" ry="4.7" fill="#a4a4a4" opacity="0.7" transform="rotate(30 895.5 310.3)"/>
<ellipse cx="843.4" cy="322.6" rx="8.5" ry="5.7" fill="#a2a2a2" opacity="0.7" transform="rotate(-30 843.4 322.6)"/>
<ellipse cx="830.1" cy="305.5" rx="5.7" ry="7.6" fill="#9c9c9c" opacity="0.6" transform="rotate(0 830.1 305.5)"/>
<ellipse cx="975.7" cy="279.0" rx="6.6" ry="5.7" fill="#a8a8a8" opacity="0.8" transform="rotate(0 975.7 279.0)"/>
<ellipse cx="965.3" cy="265.7" rx="5.7" ry="5.7" fill="#9e9e9e" opacity="0.6" transform="rotate(0 965.3 265.7)"/>
<ellipse cx="796.0" cy="378.7" rx="11.4" ry="18.9" fill="#a2a2a2" opacity="0.7" transform="rotate(0 796.0 378.7)"/>
<ellipse cx="885.0" cy="331.4" rx="5.7" ry="11.4" fill="#7a7a7a" opacity="0.7" transform="rotate(0 885.0 331.4)"/>
<ellipse cx="826.3" cy="403.4" rx="4.7" ry="5.7" fill="#a0a0a0" opacity="0.7" transform="rotate(0 826.3 403.4)"/>
<ellipse cx="1184.0" cy="315.9" rx="8.5" ry="4.7" fill="#a4a4a4" opacity="0.8" transform="rotate(0 1184.0 315.9)"/>
<ellipse cx="1163.2" cy="317.8" rx="4.7" ry="3.8" fill="#9c9c9c" opacity="0.7" transform="rotate(0 1163.2 317.8)"/>
<ellipse cx="1091.2" cy="265.7" rx="5.7" ry="4.7" fill="#9a9a9a" opacity="0.7" transform="rotate(0 1091.2 265.7)"/>
<ellipse cx="1111.0" cy="297.0" rx="4.7" ry="4.7" fill="#6e6e6e" opacity="0.7" transform="rotate(0 1111.0 297.0)"/>
<ellipse cx="1284.7" cy="318.2" rx="14.2" ry="7.6" fill="#aaaaaa" opacity="0.85" transform="rotate(0 1284.7 318.2)"/>
<ellipse cx="1221.3" cy="310.6" rx="9.5" ry="5.7" fill="#6a6a6a" opacity="0.7" transform="rotate(0 1221.3 310.6)"/>
<ellipse cx="1265.8" cy="305.4" rx="13.3" ry="1.4" fill="#5a5a5a" opacity="0.7" transform="rotate(0 1265.8 305.4)"/>
<ellipse cx="1476.1" cy="348.2" rx="6.6" ry="6.6" fill="#969696" opacity="0.7" transform="rotate(0 1476.1 348.2)"/>
<ellipse cx="1504.5" cy="329.3" rx="4.7" ry="2.8" fill="#969696" opacity="0.7" transform="rotate(0 1504.5 329.3)"/>
<ellipse cx="1419.3" cy="395.6" rx="4.7" ry="5.7" fill="#a0a0a0" opacity="0.7" transform="rotate(0 1419.3 395.6)"/></g></g>
<g id="maptop"><path d="M591.9,308.7 L594.7,307.7 L599.5,307.7 L602.3,311.5 L602.8,314.8 L594.7,314.8 L591.9,313.4Z" fill="#fff"/>
<path d="M615.1,330.9 L617.9,327.6 L621.7,328.6 L622.2,332.4 L619.4,334.7 L616.5,333.8Z" fill="#fff"/>
<path d="M706.8,289.7 L711.1,288.3 L716.3,292.1 L719.2,295.9 L716.3,296.8 L711.6,294.9 L707.8,293.1Z" fill="#e8e8e8"/>
<path d="M828.2,285.6 L832.9,279.0 L836.7,278.5 L838.2,281.8 L837.2,286.6 L832.0,287.5Z" fill="#e0ffff"/>
<path d="M805.3,364.3 L808.5,364.3 L807.2,366.9Z" fill="#fff"/>
<path d="M872.0,289.9 L875.1,289.9 L875.1,292.7 L872.0,292.7Z" fill="#fff"/>
<path d="M877.0,292.4 L881.9,292.4 L881.9,296.0 L877.0,296.0Z" fill="#fff"/></g>
<g id="mapcont"><path d="M398.6,249.6 L413.4,249.6 L417.3,253.6 L418.9,257.5 L416.7,261.9 L410.7,262.4 L410.7,266.8 L417.3,272.3 L416.2,277.8 L420.6,281.7 L425.5,282.2 L430.5,287.2 L433.8,294.9 L437.6,299.3 L436.0,302.0 L430.5,303.1 L426.1,302.6 L420.6,298.2 L414.5,296.5 L408.5,299.3 L401.9,300.9 L396.4,302.6 L393.6,304.8 L388.7,305.9 L386.5,308.6 L385.9,313.6 L382.1,316.9 L377.7,320.2 L373.8,321.8 L372.7,326.8 L370.5,330.6 L366.7,330.6 L362.3,329.5 L357.9,327.9 L350.2,324.6 L345.8,322.4 L343.8,319.6 L346.9,317.4 L352.4,314.7 L356.8,315.8 L359.0,314.7 L358.4,307.0 L355.7,305.9 L350.2,305.9 L348.5,303.1 L350.2,300.9 L353.5,299.8 L357.3,295.4 L362.3,294.9 L363.9,287.2 L366.7,283.9 L374.4,280.6 L379.3,280.0 L378.2,275.6 L384.3,270.1 L387.6,263.0 L386.5,257.5 L390.9,252.5 L395.8,252.0Z" fill="none" stroke="#ff00ff" stroke-width="3.3" stroke-linejoin="round" stroke-linecap="round"/>
<path d="M354.6,333.9 L362.3,332.8 L370.5,333.4 L376.6,339.4 L374.9,344.4 L372.2,348.8 L365.6,354.8 L366.1,358.7 L368.9,360.9 L373.3,363.1 L377.1,366.9 L384.3,366.9 L387.6,362.5 L393.1,357.0 L397.5,357.0 L404.6,364.2 L400.2,369.1 L393.1,370.2 L389.8,371.9 L381.0,376.8 L377.7,374.1 L376.6,371.3 L370.0,369.7 L362.3,365.8 L359.0,364.7 L351.8,364.7 L348.5,361.4 L351.8,358.7 L352.4,354.8 L350.7,352.1 L350.2,346.6 L351.8,343.3 L351.8,338.9 L352.9,335.6Z" fill="none" stroke="#ff00ff" stroke-width="3.3" stroke-linejoin="round" stroke-linecap="round"/>
<path d="M461.3,252.5 L462.9,250.3 L470.0,250.3 L472.2,253.1 L470.6,256.4 L466.7,258.8 L462.9,256.4Z" fill="none" stroke="#ff00ff" stroke-width="3.3" stroke-linejoin="round" stroke-linecap="round"/>
<path d="M390.9,319.6 L392.0,316.3 L395.3,314.1 L398.6,316.9 L403.0,321.3 L407.9,324.0 L407.9,326.8 L404.6,328.4 L399.7,326.8 L394.2,324.6Z" fill="none" stroke="#ff00ff" stroke-width="3.3" stroke-linejoin="round" stroke-linecap="round"/>
<circle cx="331.5" cy="315.2" r="2.2" fill="#bdbdbd" stroke="#ff00ff" stroke-width="3.3"/>
<circle cx="414.7" cy="366.1" r="3.8" fill="#ff00ff"/>
<circle cx="420.3" cy="287.7" r="3.2" fill="#ff00ff"/>
<circle cx="357.7" cy="345.7" r="2.3" fill="#ff00ff"/>
<circle cx="359.0" cy="354.3" r="2.3" fill="#ff00ff"/>
<circle cx="572.9" cy="352.0" r="0.8" fill="#a6a6a6"/>
<circle cx="675.0" cy="345.0" r="0.8" fill="#a6a6a6"/>
<circle cx="674.8" cy="345.0" r="0.8" fill="#a6a6a6"/>
<circle cx="706.8" cy="242.7" r="0.6" fill="#a6a6a6"/>
<circle cx="806.3" cy="264.4" r="0.6" fill="#a6a6a6"/>
<path d="M599.0,257.5 L601.4,258.9 L602.3,262.7 L604.7,267.5 L608.0,268.4 L610.8,271.7 L610.4,275.5 L607.5,278.4 L599.5,278.4 L599.0,281.7 L600.4,284.5 L600.4,289.3 L598.5,291.6 L595.2,290.2 L594.3,287.4 L593.8,283.1 L590.5,281.2 L587.2,278.8 L589.5,276.0 L590.5,271.3 L590.9,266.1 L594.7,262.3 L596.6,258.9Z" fill="none" stroke="#ff00ff" stroke-width="3.3" stroke-linejoin="round" stroke-linecap="round"/>
<path d="M653.5,333.3 L650.6,334.7 L651.6,336.6 L655.4,339.5 L659.2,343.3 L663.9,348.0 L664.8,350.8 L662.9,353.7 L651.6,353.7 L646.8,350.8 L641.2,349.4 L637.4,346.1 L629.8,345.6 L625.0,342.3 L621.3,338.5 L616.5,337.1 L611.8,334.7 L606.1,332.4 L599.5,331.9 L593.8,326.2 L591.9,322.4 L588.1,320.0 L584.3,315.8 L583.4,312.9 L579.6,312.9 L575.8,315.8 L572.9,318.2 L572.0,320.5 L569.6,322.4 L566.3,320.0 L564.4,316.7 L564.4,311.0 L567.3,308.2 L576.7,307.7 L577.2,305.4 L580.5,302.5 L582.4,298.7 L585.3,294.9 L593.3,292.6 L598.5,294.5 L603.3,293.1 L605.6,293.1 L611.8,299.2 L613.7,303.5 L617.0,308.2 L617.9,312.9 L620.3,316.7 L623.6,320.5 L624.1,325.7 L626.9,329.0 L630.7,332.4 L631.2,336.6 L635.5,332.4 L644.0,324.3 L654.4,318.2 L654.4,315.8 L647.8,314.8 L639.3,313.9 L636.4,311.0 L636.4,305.4 L639.7,303.5 L638.3,300.6 L634.5,296.8 L631.7,292.6 L631.2,288.3 L634.5,285.5 L637.4,284.1 L637.8,277.9 L634.5,274.1 L634.5,269.8 L637.4,267.9 L644.0,267.9 L649.7,269.8 L652.5,265.1 L655.4,260.8 L661.4,260.4 L664.2,265.1 L668.0,268.4 L670.8,273.2 L673.2,276.5 L679.4,278.8 L681.3,280.3 L686.0,280.3 L688.8,278.4 L696.4,278.4 L699.3,280.3 L704.0,280.7 L706.8,281.7 L728.6,281.7 L730.0,284.5 L729.6,287.4 L727.7,288.8 L719.2,288.8 L717.7,291.2 L719.6,293.1 L720.1,295.9 L718.2,298.7 L718.7,302.5 L720.6,305.4 L723.9,306.8 L726.7,305.8 L732.4,301.6 L737.2,299.2 L739.0,298.7 L739.5,294.9 L743.8,290.2 L748.5,287.8 L752.3,286.4 L755.2,282.2 L756.1,276.0 L758.0,272.2 L764.6,270.8 L767.5,272.7 L771.3,276.0 L776.0,276.9 L780.7,275.1 L784.5,272.7 L785.5,267.5 L787.4,264.6 L791.2,262.3 L794.9,263.7 L795.4,266.5 L793.0,269.4 L791.2,272.2 L790.7,277.9 L794.9,280.7 L798.7,284.5 L801.6,289.3 L803.5,294.0 L808.2,296.8 L808.2,298.3 L803.5,301.6 L799.7,303.9 L794.9,305.4 L792.1,307.7 L788.3,310.6 L785.5,313.4 L785.5,324.3 L783.6,326.2 L780.7,326.2 L776.9,322.4 L772.2,318.2 L770.3,316.7 L769.8,313.4 L767.5,312.5 L763.7,314.4 L756.1,314.8 L752.3,316.3 L747.6,318.2 L746.2,321.0 L743.8,323.4 L738.1,324.3 L735.3,323.4 L730.5,319.1 L725.8,314.8 L722.0,313.9 L718.2,315.3 L702.1,316.3 L701.6,322.4 L700.2,324.8 L698.3,325.7 L689.8,325.7 L686.0,323.8 L681.3,321.5 L677.5,322.4 L676.1,324.8 L675.1,327.6 L672.7,330.5 L664.2,331.4 L660.4,334.3Z" fill="none" stroke="#ff00ff" stroke-width="3.3" stroke-linejoin="round" stroke-linecap="round"/>
<circle cx="569.6" cy="321.7" r="2.4" fill="#ff00ff"/>
<path d="M591.9,308.7 L594.7,307.7 L599.5,307.7 L602.3,311.5 L602.8,314.8 L594.7,314.8 L591.9,313.4Z" fill="none" stroke="#ff00ff" stroke-width="3.3" stroke-linejoin="round" stroke-linecap="round"/>
<path d="M615.1,330.9 L617.9,327.6 L621.7,328.6 L622.2,332.4 L619.4,334.7 L616.5,333.8Z" fill="none" stroke="#ff00ff" stroke-width="3.3" stroke-linejoin="round" stroke-linecap="round"/>
<path d="M737.2,273.6 L740.0,270.3 L747.6,270.3 L753.3,273.2 L752.3,276.5 L749.5,277.9 L741.9,277.9 L738.6,276.0Z" fill="none" stroke="#ff00ff" stroke-width="3.3" stroke-linejoin="round" stroke-linecap="round"/>
<path d="M706.8,289.7 L711.1,288.3 L716.3,292.1 L719.2,295.9 L716.3,296.8 L711.6,294.9 L707.8,293.1Z" fill="none" stroke="#ff00ff" stroke-width="3.3" stroke-linejoin="round" stroke-linecap="round"/>
<circle cx="688.4" cy="295.9" r="2.1" fill="#ff00ff"/>
<path d="M806.4,321.6 L808.3,318.8 L813.1,316.9 L816.8,313.1 L818.7,307.4 L816.8,301.7 L813.1,297.9 L816.8,293.2 L819.2,287.5 L819.2,282.8 L824.4,279.9 L830.1,276.2 L835.8,271.4 L841.5,267.2 L845.3,268.1 L850.9,272.4 L854.7,272.8 L860.4,267.6 L865.2,262.9 L868.0,255.3 L871.8,250.6 L877.5,244.9 L883.2,242.5 L888.8,237.3 L892.6,237.3 L897.1,242.5 L901.8,246.8 L907.5,249.2 L916.9,249.6 L922.6,251.5 L929.3,251.5 L934.9,248.7 L940.6,245.8 L946.3,243.9 L953.9,244.4 L959.6,247.3 L965.3,250.1 L970.9,254.4 L976.6,255.8 L983.3,256.3 L988.0,259.1 L992.7,263.8 L992.3,269.5 L990.4,274.3 L989.9,278.1 L991.3,280.9 L988.9,283.7 L985.2,286.6 L981.4,289.4 L972.8,289.9 L968.1,288.0 L964.3,284.7 L961.5,283.3 L958.6,285.6 L952.0,286.1 L948.2,289.4 L944.4,290.4 L942.5,294.2 L938.7,297.9 L934.9,300.8 L931.2,301.3 L926.4,298.9 L921.7,298.9 L917.9,301.7 L916.0,307.4 L916.0,315.0 L919.8,318.3 L921.2,325.4 L922.6,330.2 L925.5,334.9 L929.3,340.1 L926.4,343.9 L921.7,342.5 L916.9,338.7 L913.2,335.4 L893.7,334.9 L893.6,338.5 L895.9,343.7 L893.1,347.5 L893.1,354.1 L890.3,357.9 L887.9,361.7 L887.9,366.4 L885.0,369.7 L880.3,371.2 L877.5,374.0 L873.7,377.8 L867.0,377.8 L864.2,376.4 L851.9,376.4 L848.1,373.1 L845.3,368.3 L841.5,365.0 L837.7,364.1 L834.4,365.9 L834.4,371.6 L837.2,374.9 L837.7,381.6 L834.8,385.4 L834.4,389.2 L837.2,391.5 L837.2,395.8 L835.8,400.5 L833.9,405.3 L831.0,409.0 L823.5,409.0 L819.7,404.3 L819.7,401.5 L823.5,397.7 L826.3,393.4 L826.3,389.6 L823.5,390.6 L818.7,393.9 L812.1,395.3 L807.4,398.6 L803.1,399.6 L803.1,405.3 L799.8,409.0 L796.0,409.0 L791.3,405.7 L786.5,400.5 L783.7,393.9 L782.3,388.2 L782.3,380.6 L780.4,375.9 L778.5,370.2 L776.1,364.5 L778.9,358.8 L778.9,351.3 L782.7,348.4 L785.6,347.5 L786.1,341.8 L788.4,338.9 L793.2,339.4 L798.8,337.5 L802.6,338.5 L805.5,344.2 L808.3,348.9 L816.8,348.9 L818.7,346.1 L816.8,343.7 L813.1,342.7 L809.3,337.1 L807.4,329.5Z" fill="none" stroke="#00ffff" stroke-width="3.3" stroke-linejoin="round" stroke-linecap="round"/>
<path d="M828.2,285.6 L832.9,279.0 L836.7,278.5 L838.2,281.8 L837.2,286.6 L832.0,287.5Z" fill="none" stroke="#00ffff" stroke-width="3.0" stroke-linejoin="round" stroke-linecap="round"/>
<circle cx="928.4" cy="275.9" r="2.6" fill="#00ffff"/>
<circle cx="832.5" cy="342.5" r="1.7" fill="#00ffff"/>
<circle cx="947.4" cy="263.8" r="3.2" fill="#00ffff"/>
<circle cx="928.5" cy="275.9" r="2.4" fill="#00ffff"/>
<path d="M769.9,374.0 L772.3,371.2 L775.6,371.6 L777.5,374.9 L775.6,377.8 L772.8,378.7Z" fill="none" stroke="#00ffff" stroke-width="3.0" stroke-linejoin="round" stroke-linecap="round"/>
<path d="M802.6,361.7 L811.2,361.7 L812.1,364.5 L809.3,368.3 L812.1,372.1 L812.1,375.9 L809.3,376.8 L806.4,374.0 L802.6,367.4Z" fill="none" stroke="#00ffff" stroke-width="3.0" stroke-linejoin="round" stroke-linecap="round"/>
<path d="M1006.9,239.7 L1014.5,239.7 L1019.3,243.5 L1025.9,242.5 L1029.7,245.4 L1032.5,250.6 L1034.4,255.3 L1033.5,258.6 L1025.9,259.1 L1023.0,256.3 L1021.2,252.5 L1018.3,255.3 L1015.5,261.9 L1012.6,265.3 L1006.9,265.3 L1001.3,262.9 L997.9,259.1 L997.9,254.4 L1000.8,250.6 L1002.7,244.9Z" fill="none" stroke="#ffff00" stroke-width="3.6" stroke-linejoin="round" stroke-linecap="round"/>
<path d="M1042.0,242.5 L1044.8,240.2 L1049.6,241.1 L1052.4,244.9 L1052.4,250.6 L1049.6,252.9 L1044.8,252.0 L1041.5,248.7Z" fill="none" stroke="#ffff00" stroke-width="3.6" stroke-linejoin="round" stroke-linecap="round"/>
<path d="M1049.0,312.3 L1050.5,309.7 L1053.1,310.5 L1054.9,313.0 L1054.2,315.6 L1050.9,316.0Z" fill="none" stroke="#ffff00" stroke-width="3.6" stroke-linejoin="round" stroke-linecap="round"/>
<circle cx="1051.5" cy="313.1" r="0.8" fill="#8a8a8a"/>
<path d="M1068.4,253.4 L1079.8,252.0 L1083.6,250.6 L1088.3,253.4 L1092.1,257.2 L1094.9,261.9 L1099.7,264.8 L1105.4,266.7 L1106.3,274.3 L1107.3,279.0 L1112.9,280.4 L1116.7,283.7 L1117.2,293.2 L1118.6,296.0 L1117.7,299.8 L1113.9,301.7 L1109.2,303.2 L1105.4,300.8 L1100.6,297.0 L1099.2,295.1 L1101.6,292.3 L1105.4,290.4 L1107.3,287.5 L1105.4,283.7 L1100.6,281.8 L1094.9,279.0 L1089.3,275.2 L1084.5,272.4 L1080.7,268.6 L1078.8,263.8 L1075.1,259.1 L1070.3,256.3Z" fill="none" stroke="#ffff00" stroke-width="3.6" stroke-linejoin="round" stroke-linecap="round"/>
<circle cx="1128.6" cy="278.3" r="2.6" fill="#ffff00"/>
<path d="M1147.4,265.6 L1148.5,263.1 L1151.4,262.7 L1152.9,264.9 L1151.8,267.5 L1149.2,268.2Z" fill="none" stroke="#ffff00" stroke-width="3.6" stroke-linejoin="round" stroke-linecap="round"/>
<circle cx="1149.7" cy="265.5" r="0.9" fill="#666"/>
<path d="M1191.4,262.7 L1192.5,260.1 L1195.1,259.4 L1196.9,261.6 L1195.8,264.2 L1192.9,264.6Z" fill="none" stroke="#ffff00" stroke-width="3.6" stroke-linejoin="round" stroke-linecap="round"/>
<circle cx="1194.2" cy="261.9" r="0.7" fill="#777"/>
<path d="M1153.2,273.3 L1156.5,270.0 L1162.2,268.6 L1166.9,270.5 L1172.6,274.3 L1177.4,277.1 L1179.7,280.9 L1178.3,283.3 L1167.9,283.7 L1163.2,280.9 L1158.4,278.1 L1154.6,276.2Z" fill="none" stroke="#ffff00" stroke-width="3.6" stroke-linejoin="round" stroke-linecap="round"/>
<path d="M1133.8,320.7 L1137.6,315.9 L1142.3,311.7 L1148.9,311.2 L1153.7,308.8 L1160.3,306.9 L1164.1,305.0 L1167.9,306.5 L1170.7,308.8 L1176.4,308.8 L1180.2,307.9 L1192.5,307.9 L1196.3,311.2 L1197.7,315.9 L1195.4,320.7 L1190.6,323.0 L1175.5,323.5 L1172.6,324.5 L1159.4,324.5 L1156.5,323.5 L1151.8,324.9 L1146.1,327.8 L1138.5,327.8 L1134.7,324.5Z" fill="none" stroke="#ffff00" stroke-width="3.6" stroke-linejoin="round" stroke-linecap="round"/>
<path d="M1078.2,307.4 L1079.3,305.1 L1081.9,304.8 L1083.8,307.0 L1083.0,309.2 L1080.1,309.6Z" fill="none" stroke="#ffff00" stroke-width="3.6" stroke-linejoin="round" stroke-linecap="round"/>
<circle cx="1080.7" cy="307.4" r="0.7" fill="#777"/>
<path d="M1209.4,285.5 L1210.4,281.3 L1212.7,280.3 L1216.5,282.2 L1220.3,284.6 L1220.8,287.9 L1218.4,290.3 L1213.7,290.3 L1210.8,288.4Z" fill="none" stroke="#ffff00" stroke-width="3.6" stroke-linejoin="round" stroke-linecap="round"/>
<path d="M1203.3,303.1 L1206.6,298.3 L1209.9,296.4 L1213.7,297.4 L1217.5,299.7 L1221.3,299.3 L1225.1,296.4 L1227.9,297.4 L1231.7,301.2 L1235.5,304.5 L1240.2,306.4 L1246.8,306.4 L1250.6,303.1 L1254.4,301.6 L1258.2,303.1 L1279.0,303.1 L1281.9,304.5 L1292.3,304.9 L1295.2,306.4 L1300.8,306.8 L1304.6,309.2 L1307.5,313.5 L1310.3,317.3 L1310.8,320.1 L1308.4,322.0 L1308.4,335.3 L1305.6,338.6 L1297.0,339.0 L1294.2,337.6 L1286.6,337.2 L1282.8,334.8 L1277.2,333.8 L1272.4,331.9 L1267.7,328.6 L1262.9,325.3 L1258.2,322.0 L1254.4,321.5 L1250.6,322.9 L1245.9,324.8 L1242.1,322.5 L1235.5,322.5 L1229.8,323.4 L1226.0,324.8 L1221.3,326.7 L1217.9,324.8 L1215.6,321.0 L1213.7,317.3 L1213.2,311.6 L1209.9,307.8 L1205.2,305.9Z" fill="none" stroke="#ffff00" stroke-width="3.6" stroke-linejoin="round" stroke-linecap="round"/>
<path d="M1325.6,344.2 L1327.0,341.3 L1330.0,340.9 L1332.6,343.1 L1332.6,345.7 L1330.0,347.2 L1327.0,346.4Z" fill="none" stroke="#ffff00" stroke-width="3.6" stroke-linejoin="round" stroke-linecap="round"/>
<circle cx="1329.3" cy="344.3" r="0.9" fill="#888"/>
<path d="M1477.0,292.3 L1478.9,289.9 L1483.2,289.9 L1486.5,292.8 L1486.5,295.6 L1483.7,296.6 L1479.9,295.6Z" fill="none" stroke="#ffff00" stroke-width="3.6" stroke-linejoin="round" stroke-linecap="round"/>
<path d="M1495.0,301.8 L1496.9,299.9 L1499.8,300.4 L1502.6,301.8 L1507.4,301.8 L1509.7,304.2 L1507.8,306.5 L1503.6,306.5 L1500.7,304.6 L1497.4,303.7Z" fill="none" stroke="#ffff00" stroke-width="3.6" stroke-linejoin="round" stroke-linecap="round"/>
<path d="M1446.3,324.6 L1447.1,322.4 L1448.9,322.4 L1450.4,324.9 L1449.3,327.2 L1447.4,327.2Z" fill="none" stroke="#ffff00" stroke-width="3.6" stroke-linejoin="round" stroke-linecap="round"/>
<path d="M1397.0,345.4 L1399.4,341.6 L1404.1,339.2 L1409.3,339.2 L1411.2,342.1 L1409.8,345.4 L1405.1,347.7 L1401.3,349.6 L1398.4,348.2Z" fill="none" stroke="#ffff00" stroke-width="3.6" stroke-linejoin="round" stroke-linecap="round"/>
<path d="M1464.3,344.4 L1465.7,340.6 L1469.5,339.2 L1478.0,339.2 L1482.7,335.9 L1488.4,331.2 L1495.0,329.3 L1500.7,325.5 L1508.3,325.0 L1512.1,327.4 L1513.0,330.7 L1510.2,334.5 L1504.5,336.8 L1498.8,338.7 L1494.1,342.5 L1493.2,346.3 L1496.0,352.9 L1494.1,356.7 L1490.3,360.5 L1489.4,363.4 L1483.7,365.3 L1478.9,367.2 L1470.4,367.2 L1467.6,363.4 L1467.1,358.6 L1465.7,354.8 L1466.6,350.1 L1464.7,347.3Z" fill="none" stroke="#ffff00" stroke-width="3.6" stroke-linejoin="round" stroke-linecap="round"/>
<path d="M1411.7,402.2 L1412.2,396.5 L1415.5,389.9 L1419.3,385.6 L1425.9,385.2 L1429.2,388.9 L1429.2,394.6 L1425.9,399.4 L1420.2,404.1 L1414.5,404.1Z" fill="none" stroke="#ffff00" stroke-width="3.6" stroke-linejoin="round" stroke-linecap="round"/></g>
</g>
<line x1="299.26" y1="532.00" x2="299.26" y2="538.20" stroke="#000" stroke-width="2.8" />
<line x1="299.26" y1="20.70" x2="299.26" y2="14.50" stroke="#000" stroke-width="2.8" />
<line x1="350.44" y1="532.00" x2="350.44" y2="538.20" stroke="#000" stroke-width="2.8" />
<line x1="350.44" y1="20.70" x2="350.44" y2="14.50" stroke="#000" stroke-width="2.8" />
<line x1="401.62" y1="532.00" x2="401.62" y2="538.20" stroke="#000" stroke-width="2.8" />
<line x1="401.62" y1="20.70" x2="401.62" y2="14.50" stroke="#000" stroke-width="2.8" />
<line x1="503.98" y1="532.00" x2="503.98" y2="538.20" stroke="#000" stroke-width="2.8" />
<line x1="503.98" y1="20.70" x2="503.98" y2="14.50" stroke="#000" stroke-width="2.8" />
<line x1="555.16" y1="532.00" x2="555.16" y2="538.20" stroke="#000" stroke-width="2.8" />
<line x1="555.16" y1="20.70" x2="555.16" y2="14.50" stroke="#000" stroke-width="2.8" />
<line x1="606.34" y1="532.00" x2="606.34" y2="538.20" stroke="#000" stroke-width="2.8" />
<line x1="606.34" y1="20.70" x2="606.34" y2="14.50" stroke="#000" stroke-width="2.8" />
<line x1="657.52" y1="532.00" x2="657.52" y2="538.20" stroke="#000" stroke-width="2.8" />
<line x1="657.52" y1="20.70" x2="657.52" y2="14.50" stroke="#000" stroke-width="2.8" />
<line x1="759.88" y1="532.00" x2="759.88" y2="538.20" stroke="#000" stroke-width="2.8" />
<line x1="759.88" y1="20.70" x2="759.88" y2="14.50" stroke="#000" stroke-width="2.8" />
<line x1="811.06" y1="532.00" x2="811.06" y2="538.20" stroke="#000" stroke-width="2.8" />
<line x1="811.06" y1="20.70" x2="811.06" y2="14.50" stroke="#000" stroke-width="2.8" />
<line x1="862.24" y1="532.00" x2="862.24" y2="538.20" stroke="#000" stroke-width="2.8" />
<line x1="862.24" y1="20.70" x2="862.24" y2="14.50" stroke="#000" stroke-width="2.8" />
<line x1="913.42" y1="532.00" x2="913.42" y2="538.20" stroke="#000" stroke-width="2.8" />
<line x1="913.42" y1="20.70" x2="913.42" y2="14.50" stroke="#000" stroke-width="2.8" />
<line x1="1015.78" y1="532.00" x2="1015.78" y2="538.20" stroke="#000" stroke-width="2.8" />
<line x1="1015.78" y1="20.70" x2="1015.78" y2="14.50" stroke="#000" stroke-width="2.8" />
<line x1="1066.96" y1="532.00" x2="1066.96" y2="538.20" stroke="#000" stroke-width="2.8" />
<line x1="1066.96" y1="20.70" x2="1066.96" y2="14.50" stroke="#000" stroke-width="2.8" />
<line x1="1118.14" y1="532.00" x2="1118.14" y2="538.20" stroke="#000" stroke-width="2.8" />
<line x1="1118.14" y1="20.70" x2="1118.14" y2="14.50" stroke="#000" stroke-width="2.8" />
<line x1="1169.32" y1="532.00" x2="1169.32" y2="538.20" stroke="#000" stroke-width="2.8" />
<line x1="1169.32" y1="20.70" x2="1169.32" y2="14.50" stroke="#000" stroke-width="2.8" />
<line x1="1271.68" y1="532.00" x2="1271.68" y2="538.20" stroke="#000" stroke-width="2.8" />
<line x1="1271.68" y1="20.70" x2="1271.68" y2="14.50" stroke="#000" stroke-width="2.8" />
<line x1="1322.86" y1="532.00" x2="1322.86" y2="538.20" stroke="#000" stroke-width="2.8" />
<line x1="1322.86" y1="20.70" x2="1322.86" y2="14.50" stroke="#000" stroke-width="2.8" />
<line x1="1374.04" y1="532.00" x2="1374.04" y2="538.20" stroke="#000" stroke-width="2.8" />
<line x1="1374.04" y1="20.70" x2="1374.04" y2="14.50" stroke="#000" stroke-width="2.8" />
<line x1="1425.22" y1="532.00" x2="1425.22" y2="538.20" stroke="#000" stroke-width="2.8" />
<line x1="1425.22" y1="20.70" x2="1425.22" y2="14.50" stroke="#000" stroke-width="2.8" />
<line x1="1527.58" y1="532.00" x2="1527.58" y2="538.20" stroke="#000" stroke-width="2.8" />
<line x1="1527.58" y1="20.70" x2="1527.58" y2="14.50" stroke="#000" stroke-width="2.8" />
<line x1="1578.76" y1="532.00" x2="1578.76" y2="538.20" stroke="#000" stroke-width="2.8" />
<line x1="1578.76" y1="20.70" x2="1578.76" y2="14.50" stroke="#000" stroke-width="2.8" />
<line x1="1629.94" y1="532.00" x2="1629.94" y2="538.20" stroke="#000" stroke-width="2.8" />
<line x1="1629.94" y1="20.70" x2="1629.94" y2="14.50" stroke="#000" stroke-width="2.8" />
<line x1="452.80" y1="532.00" x2="452.80" y2="553.00" stroke="#000" stroke-width="3.5" />
<line x1="452.80" y1="20.70" x2="452.80" y2="-0.30" stroke="#000" stroke-width="3.5" />
<line x1="708.70" y1="532.00" x2="708.70" y2="553.00" stroke="#000" stroke-width="3.5" />
<line x1="708.70" y1="20.70" x2="708.70" y2="-0.30" stroke="#000" stroke-width="3.5" />
<line x1="964.60" y1="532.00" x2="964.60" y2="553.00" stroke="#000" stroke-width="3.5" />
<line x1="964.60" y1="20.70" x2="964.60" y2="-0.30" stroke="#000" stroke-width="3.5" />
<line x1="1220.50" y1="532.00" x2="1220.50" y2="553.00" stroke="#000" stroke-width="3.5" />
<line x1="1220.50" y1="20.70" x2="1220.50" y2="-0.30" stroke="#000" stroke-width="3.5" />
<line x1="1476.40" y1="532.00" x2="1476.40" y2="553.00" stroke="#000" stroke-width="3.5" />
<line x1="1476.40" y1="20.70" x2="1476.40" y2="-0.30" stroke="#000" stroke-width="3.5" />
<line x1="248.40" y1="46.34" x2="242.20" y2="46.34" stroke="#000" stroke-width="2.8" />
<line x1="1681.40" y1="46.34" x2="1687.60" y2="46.34" stroke="#000" stroke-width="2.8" />
<line x1="248.40" y1="71.93" x2="242.20" y2="71.93" stroke="#000" stroke-width="2.8" />
<line x1="1681.40" y1="71.93" x2="1687.60" y2="71.93" stroke="#000" stroke-width="2.8" />
<line x1="248.40" y1="97.52" x2="242.20" y2="97.52" stroke="#000" stroke-width="2.8" />
<line x1="1681.40" y1="97.52" x2="1687.60" y2="97.52" stroke="#000" stroke-width="2.8" />
<line x1="248.40" y1="123.11" x2="242.20" y2="123.11" stroke="#000" stroke-width="2.8" />
<line x1="1681.40" y1="123.11" x2="1687.60" y2="123.11" stroke="#000" stroke-width="2.8" />
<line x1="248.40" y1="174.29" x2="242.20" y2="174.29" stroke="#000" stroke-width="2.8" />
<line x1="1681.40" y1="174.29" x2="1687.60" y2="174.29" stroke="#000" stroke-width="2.8" />
<line x1="248.40" y1="199.88" x2="242.20" y2="199.88" stroke="#000" stroke-width="2.8" />
<line x1="1681.40" y1="199.88" x2="1687.60" y2="199.88" stroke="#000" stroke-width="2.8" />
<line x1="248.40" y1="225.47" x2="242.20" y2="225.47" stroke="#000" stroke-width="2.8" />
<line x1="1681.40" y1="225.47" x2="1687.60" y2="225.47" stroke="#000" stroke-width="2.8" />
<line x1="248.40" y1="251.06" x2="242.20" y2="251.06" stroke="#000" stroke-width="2.8" />
<line x1="1681.40" y1="251.06" x2="1687.60" y2="251.06" stroke="#000" stroke-width="2.8" />
<line x1="248.40" y1="302.24" x2="242.20" y2="302.24" stroke="#000" stroke-width="2.8" />
<line x1="1681.40" y1="302.24" x2="1687.60" y2="302.24" stroke="#000" stroke-width="2.8" />
<line x1="248.40" y1="327.83" x2="242.20" y2="327.83" stroke="#000" stroke-width="2.8" />
<line x1="1681.40" y1="327.83" x2="1687.60" y2="327.83" stroke="#000" stroke-width="2.8" />
<line x1="248.40" y1="353.42" x2="242.20" y2="353.42" stroke="#000" stroke-width="2.8" />
<line x1="1681.40" y1="353.42" x2="1687.60" y2="353.42" stroke="#000" stroke-width="2.8" />
<line x1="248.40" y1="379.01" x2="242.20" y2="379.01" stroke="#000" stroke-width="2.8" />
<line x1="1681.40" y1="379.01" x2="1687.60" y2="379.01" stroke="#000" stroke-width="2.8" />
<line x1="248.40" y1="430.19" x2="242.20" y2="430.19" stroke="#000" stroke-width="2.8" />
<line x1="1681.40" y1="430.19" x2="1687.60" y2="430.19" stroke="#000" stroke-width="2.8" />
<line x1="248.40" y1="455.78" x2="242.20" y2="455.78" stroke="#000" stroke-width="2.8" />
<line x1="1681.40" y1="455.78" x2="1687.60" y2="455.78" stroke="#000" stroke-width="2.8" />
<line x1="248.40" y1="481.37" x2="242.20" y2="481.37" stroke="#000" stroke-width="2.8" />
<line x1="1681.40" y1="481.37" x2="1687.60" y2="481.37" stroke="#000" stroke-width="2.8" />
<line x1="248.40" y1="506.96" x2="242.20" y2="506.96" stroke="#000" stroke-width="2.8" />
<line x1="1681.40" y1="506.96" x2="1687.60" y2="506.96" stroke="#000" stroke-width="2.8" />
<line x1="248.40" y1="148.70" x2="227.40" y2="148.70" stroke="#000" stroke-width="3.5" />
<line x1="1681.40" y1="148.70" x2="1702.40" y2="148.70" stroke="#000" stroke-width="3.5" />
<line x1="248.40" y1="276.65" x2="227.40" y2="276.65" stroke="#000" stroke-width="3.5" />
<line x1="1681.40" y1="276.65" x2="1702.40" y2="276.65" stroke="#000" stroke-width="3.5" />
<line x1="248.40" y1="404.60" x2="227.40" y2="404.60" stroke="#000" stroke-width="3.5" />
<line x1="1681.40" y1="404.60" x2="1702.40" y2="404.60" stroke="#000" stroke-width="3.5" />
<rect x="248.4" y="20.7" width="1433.0" height="511.3" fill="none" stroke="#000" stroke-width="3.5"/>
<line x1="291.50" y1="427.50" x2="636.00" y2="427.50" stroke="#000" stroke-width="3.0" />
<rect x="1692.2" y="20.7" width="64.5" height="511.3" fill="url(#cbg)" stroke="#000" stroke-width="3.0"/>
<line x1="1756.70" y1="20.70" x2="1767.70" y2="20.70" stroke="#000" stroke-width="3.0" />
<line x1="1756.70" y1="122.96" x2="1767.70" y2="122.96" stroke="#000" stroke-width="3.0" />
<line x1="1756.70" y1="225.22" x2="1767.70" y2="225.22" stroke="#000" stroke-width="3.0" />
<line x1="1756.70" y1="327.48" x2="1767.70" y2="327.48" stroke="#000" stroke-width="3.0" />
<line x1="1756.70" y1="429.74" x2="1767.70" y2="429.74" stroke="#000" stroke-width="3.0" />
<line x1="1756.70" y1="532.00" x2="1767.70" y2="532.00" stroke="#000" stroke-width="3.0" />
<g id="hist">
<rect x="412.84" y="1332.60" width="24.81" height="5.40" fill="#808080" fill-opacity="0.7"/>
<rect x="437.65" y="1327.60" width="24.81" height="10.40" fill="#808080" fill-opacity="0.7"/>
<rect x="462.46" y="1314.30" width="24.81" height="23.70" fill="#808080" fill-opacity="0.7"/>
<rect x="487.27" y="1309.10" width="24.81" height="28.90" fill="#808080" fill-opacity="0.7"/>
<rect x="512.08" y="1278.90" width="24.81" height="59.10" fill="#808080" fill-opacity="0.7"/>
<rect x="536.89" y="1262.10" width="24.81" height="75.90" fill="#808080" fill-opacity="0.7"/>
<rect x="561.70" y="1204.00" width="24.81" height="134.00" fill="#808080" fill-opacity="0.7"/>
<rect x="586.51" y="1224.00" width="24.81" height="114.00" fill="#808080" fill-opacity="0.7"/>
<rect x="611.32" y="1128.40" width="24.81" height="209.60" fill="#808080" fill-opacity="0.7"/>
<rect x="636.13" y="1114.30" width="24.81" height="223.70" fill="#808080" fill-opacity="0.7"/>
<rect x="660.94" y="1190.30" width="24.81" height="147.70" fill="#808080" fill-opacity="0.7"/>
<rect x="685.75" y="1133.10" width="24.81" height="204.90" fill="#808080" fill-opacity="0.7"/>
<rect x="710.56" y="931.40" width="24.81" height="406.60" fill="#808080" fill-opacity="0.7"/>
<rect x="735.37" y="790.10" width="24.81" height="547.90" fill="#808080" fill-opacity="0.7"/>
<rect x="760.18" y="758.30" width="24.81" height="579.70" fill="#808080" fill-opacity="0.7"/>
<rect x="784.99" y="938.90" width="24.81" height="399.10" fill="#808080" fill-opacity="0.7"/>
<rect x="809.80" y="986.70" width="24.81" height="351.30" fill="#808080" fill-opacity="0.7"/>
<rect x="834.61" y="894.10" width="24.81" height="443.90" fill="#808080" fill-opacity="0.7"/>
<rect x="859.42" y="918.10" width="24.81" height="419.90" fill="#808080" fill-opacity="0.7"/>
<rect x="884.23" y="901.30" width="24.81" height="436.70" fill="#808080" fill-opacity="0.7"/>
<rect x="909.04" y="1021.10" width="24.81" height="316.90" fill="#808080" fill-opacity="0.7"/>
<rect x="933.85" y="1057.80" width="24.81" height="280.20" fill="#808080" fill-opacity="0.7"/>
<rect x="958.66" y="1085.20" width="24.81" height="252.80" fill="#808080" fill-opacity="0.7"/>
<rect x="983.47" y="1107.10" width="24.81" height="230.90" fill="#808080" fill-opacity="0.7"/>
<rect x="1008.28" y="1111.70" width="24.81" height="226.30" fill="#808080" fill-opacity="0.7"/>
<rect x="1033.09" y="1169.20" width="24.81" height="168.80" fill="#808080" fill-opacity="0.7"/>
<rect x="1057.90" y="1187.70" width="24.81" height="150.30" fill="#808080" fill-opacity="0.7"/>
<rect x="1082.71" y="1228.10" width="24.81" height="109.90" fill="#808080" fill-opacity="0.7"/>
<rect x="1107.52" y="1238.20" width="24.81" height="99.80" fill="#808080" fill-opacity="0.7"/>
<rect x="1132.33" y="1241.80" width="24.81" height="96.20" fill="#808080" fill-opacity="0.7"/>
<rect x="1157.14" y="1281.20" width="24.81" height="56.80" fill="#808080" fill-opacity="0.7"/>
<rect x="1181.95" y="1299.10" width="24.81" height="38.90" fill="#808080" fill-opacity="0.7"/>
<rect x="1206.76" y="1318.60" width="24.81" height="19.40" fill="#808080" fill-opacity="0.7"/>
<rect x="1231.57" y="1326.20" width="24.81" height="11.80" fill="#808080" fill-opacity="0.7"/>
<rect x="1256.38" y="1330.00" width="24.81" height="8.00" fill="#808080" fill-opacity="0.7"/>
<rect x="1281.19" y="1333.40" width="24.81" height="4.60" fill="#808080" fill-opacity="0.7"/>
<rect x="1306.00" y="1330.80" width="24.81" height="7.20" fill="#808080" fill-opacity="0.7"/>
<rect x="1330.81" y="1331.50" width="24.81" height="6.50" fill="#808080" fill-opacity="0.7"/>
<rect x="1355.62" y="1333.20" width="24.81" height="4.80" fill="#808080" fill-opacity="0.7"/>
<rect x="1380.43" y="1332.30" width="24.81" height="5.70" fill="#808080" fill-opacity="0.7"/>
<rect x="1405.24" y="1332.10" width="24.81" height="5.90" fill="#808080" fill-opacity="0.7"/>
<rect x="1430.05" y="1335.10" width="24.81" height="2.90" fill="#808080" fill-opacity="0.7"/>
<rect x="1454.86" y="1335.90" width="24.81" height="2.10" fill="#808080" fill-opacity="0.7"/>
<rect x="685.75" y="1333.80" width="24.81" height="4.20" fill="#00ffff" fill-opacity="0.7"/>
<rect x="710.56" y="1328.90" width="24.81" height="9.10" fill="#00ffff" fill-opacity="0.7"/>
<rect x="735.37" y="1311.90" width="24.81" height="26.10" fill="#00ffff" fill-opacity="0.7"/>
<rect x="760.18" y="1228.30" width="24.81" height="109.70" fill="#00ffff" fill-opacity="0.7"/>
<rect x="784.99" y="1193.20" width="24.81" height="144.80" fill="#00ffff" fill-opacity="0.7"/>
<rect x="809.80" y="1146.20" width="24.81" height="191.80" fill="#00ffff" fill-opacity="0.7"/>
<rect x="834.61" y="1032.20" width="24.81" height="305.80" fill="#00ffff" fill-opacity="0.7"/>
<rect x="859.42" y="1060.50" width="24.81" height="277.50" fill="#00ffff" fill-opacity="0.7"/>
<rect x="884.23" y="1051.00" width="24.81" height="287.00" fill="#00ffff" fill-opacity="0.7"/>
<rect x="909.04" y="1130.00" width="24.81" height="208.00" fill="#00ffff" fill-opacity="0.7"/>
<rect x="933.85" y="1188.50" width="24.81" height="149.50" fill="#00ffff" fill-opacity="0.7"/>
<rect x="958.66" y="1216.30" width="24.81" height="121.70" fill="#00ffff" fill-opacity="0.7"/>
<rect x="983.47" y="1235.10" width="24.81" height="102.90" fill="#00ffff" fill-opacity="0.7"/>
<rect x="1008.28" y="1236.70" width="24.81" height="101.30" fill="#00ffff" fill-opacity="0.7"/>
<rect x="1033.09" y="1276.10" width="24.81" height="61.90" fill="#00ffff" fill-opacity="0.7"/>
<rect x="1057.90" y="1290.00" width="24.81" height="48.00" fill="#00ffff" fill-opacity="0.7"/>
<rect x="1082.71" y="1320.70" width="24.81" height="17.30" fill="#00ffff" fill-opacity="0.7"/>
<rect x="1107.52" y="1326.80" width="24.81" height="11.20" fill="#00ffff" fill-opacity="0.7"/>
<rect x="1132.33" y="1332.70" width="24.81" height="5.30" fill="#00ffff" fill-opacity="0.7"/>
<rect x="735.37" y="1332.10" width="24.81" height="5.90" fill="#ffff00" fill-opacity="0.7"/>
<rect x="760.18" y="1323.10" width="24.81" height="14.90" fill="#ffff00" fill-opacity="0.7"/>
<rect x="784.99" y="1318.00" width="24.81" height="20.00" fill="#ffff00" fill-opacity="0.7"/>
<rect x="809.80" y="1311.90" width="24.81" height="26.10" fill="#ffff00" fill-opacity="0.7"/>
<rect x="834.61" y="1303.30" width="24.81" height="34.70" fill="#ffff00" fill-opacity="0.7"/>
<rect x="859.42" y="1299.90" width="24.81" height="38.10" fill="#ffff00" fill-opacity="0.7"/>
<rect x="884.23" y="1293.80" width="24.81" height="44.20" fill="#ffff00" fill-opacity="0.7"/>
<rect x="909.04" y="1285.00" width="24.81" height="53.00" fill="#ffff00" fill-opacity="0.7"/>
<rect x="933.85" y="1246.20" width="24.81" height="91.80" fill="#ffff00" fill-opacity="0.7"/>
<rect x="958.66" y="1247.10" width="24.81" height="90.90" fill="#ffff00" fill-opacity="0.7"/>
<rect x="983.47" y="1257.80" width="24.81" height="80.20" fill="#ffff00" fill-opacity="0.7"/>
<rect x="1008.28" y="1271.70" width="24.81" height="66.30" fill="#ffff00" fill-opacity="0.7"/>
<rect x="1033.09" y="1291.30" width="24.81" height="46.70" fill="#ffff00" fill-opacity="0.7"/>
<rect x="1057.90" y="1292.90" width="24.81" height="45.10" fill="#ffff00" fill-opacity="0.7"/>
<rect x="1082.71" y="1302.20" width="24.81" height="35.80" fill="#ffff00" fill-opacity="0.7"/>
<rect x="1107.52" y="1298.00" width="24.81" height="40.00" fill="#ffff00" fill-opacity="0.7"/>
<rect x="1132.33" y="1300.90" width="24.81" height="37.10" fill="#ffff00" fill-opacity="0.7"/>
<rect x="1157.14" y="1321.20" width="24.81" height="16.80" fill="#ffff00" fill-opacity="0.7"/>
<rect x="1181.95" y="1321.80" width="24.81" height="16.20" fill="#ffff00" fill-opacity="0.7"/>
<rect x="1206.76" y="1331.70" width="24.81" height="6.30" fill="#ffff00" fill-opacity="0.7"/>
<rect x="1231.57" y="1334.80" width="24.81" height="3.20" fill="#ffff00" fill-opacity="0.7"/>
<rect x="1256.38" y="1335.30" width="24.81" height="2.70" fill="#ffff00" fill-opacity="0.7"/>
<rect x="1281.19" y="1335.90" width="24.81" height="2.10" fill="#ffff00" fill-opacity="0.7"/>
<rect x="1306.00" y="1334.00" width="24.81" height="4.00" fill="#ffff00" fill-opacity="0.7"/>
<rect x="1330.81" y="1335.30" width="24.81" height="2.70" fill="#ffff00" fill-opacity="0.7"/>
<rect x="1355.62" y="1335.70" width="24.81" height="2.30" fill="#ffff00" fill-opacity="0.7"/>
<rect x="1380.43" y="1335.90" width="24.81" height="2.10" fill="#ffff00" fill-opacity="0.7"/>
<rect x="462.46" y="1335.60" width="24.81" height="2.40" fill="#ff00ff" fill-opacity="0.7"/>
<rect x="487.27" y="1322.90" width="24.81" height="15.10" fill="#ff00ff" fill-opacity="0.7"/>
<rect x="512.08" y="1293.50" width="24.81" height="44.50" fill="#ff00ff" fill-opacity="0.7"/>
<rect x="536.89" y="1287.60" width="24.81" height="50.40" fill="#ff00ff" fill-opacity="0.7"/>
<rect x="561.70" y="1228.80" width="24.81" height="109.20" fill="#ff00ff" fill-opacity="0.7"/>
<rect x="586.51" y="1256.00" width="24.81" height="82.00" fill="#ff00ff" fill-opacity="0.7"/>
<rect x="611.32" y="1198.90" width="24.81" height="139.10" fill="#ff00ff" fill-opacity="0.7"/>
<rect x="636.13" y="1249.10" width="24.81" height="88.90" fill="#ff00ff" fill-opacity="0.7"/>
<rect x="660.94" y="1259.80" width="24.81" height="78.20" fill="#ff00ff" fill-opacity="0.7"/>
<rect x="685.75" y="1187.00" width="24.81" height="151.00" fill="#ff00ff" fill-opacity="0.7"/>
<rect x="710.56" y="1078.60" width="24.81" height="259.40" fill="#ff00ff" fill-opacity="0.7"/>
<rect x="735.37" y="1097.40" width="24.81" height="240.60" fill="#ff00ff" fill-opacity="0.7"/>
<rect x="760.18" y="1170.70" width="24.81" height="167.30" fill="#ff00ff" fill-opacity="0.7"/>
<rect x="784.99" y="1236.10" width="24.81" height="101.90" fill="#ff00ff" fill-opacity="0.7"/>
<rect x="809.80" y="1272.90" width="24.81" height="65.10" fill="#ff00ff" fill-opacity="0.7"/>
<rect x="834.61" y="1298.40" width="24.81" height="39.60" fill="#ff00ff" fill-opacity="0.7"/>
<rect x="859.42" y="1304.10" width="24.81" height="33.90" fill="#ff00ff" fill-opacity="0.7"/>
<rect x="884.23" y="1330.60" width="24.81" height="7.40" fill="#ff00ff" fill-opacity="0.7"/>
<rect x="909.04" y="1335.30" width="24.81" height="2.70" fill="#ff00ff" fill-opacity="0.7"/>
<rect x="933.85" y="1335.70" width="24.81" height="2.30" fill="#ff00ff" fill-opacity="0.7"/>
</g>
<line x1="540.10" y1="1338.00" x2="540.10" y2="1346.30" stroke="#000" stroke-width="2.1" />
<line x1="847.05" y1="1338.00" x2="847.05" y2="1346.30" stroke="#000" stroke-width="2.1" />
<line x1="1154.00" y1="1338.00" x2="1154.00" y2="1346.30" stroke="#000" stroke-width="2.1" />
<line x1="1460.95" y1="1338.00" x2="1460.95" y2="1346.30" stroke="#000" stroke-width="2.1" />
<line x1="1767.90" y1="1338.00" x2="1767.90" y2="1346.30" stroke="#000" stroke-width="2.1" />
<line x1="294.40" y1="778.90" x2="286.10" y2="778.90" stroke="#000" stroke-width="2.1" />
<line x1="294.40" y1="965.55" x2="286.10" y2="965.55" stroke="#000" stroke-width="2.1" />
<line x1="294.40" y1="1152.20" x2="286.10" y2="1152.20" stroke="#000" stroke-width="2.1" />
<rect x="294.4" y="741.5" width="1473.5" height="596.5" fill="none" stroke="#000" stroke-width="2.1"/>
<rect x="1295.8" y="765.8" width="447.9000000000001" height="301.0" rx="6.5" ry="6.5" fill="#fff" fill-opacity="0.8" stroke="#ccc" stroke-opacity="0.8" stroke-width="2.1"/>
<rect x="1315.5" y="788.30" width="97.5" height="34.2" fill="#808080" fill-opacity="0.7"/>
<rect x="1315.5" y="859.85" width="97.5" height="34.2" fill="#00ffff" fill-opacity="0.7"/>
<rect x="1315.5" y="931.40" width="97.5" height="34.2" fill="#ffff00" fill-opacity="0.7"/>
<rect x="1315.5" y="1002.95" width="97.5" height="34.2" fill="#ff00ff" fill-opacity="0.7"/>
<g id="labels">
<text x="389.07" y="601.30" font-size="48.1" text-anchor="start" font-weight="normal" fill="#000" >1°30'</text>
<text x="671.87" y="601.30" font-size="48.1" text-anchor="start" font-weight="normal" fill="#000" >00'</text>
<text x="900.51" y="601.30" font-size="48.1" text-anchor="start" font-weight="normal" fill="#000" >0°30'</text>
<text x="1183.37" y="601.30" font-size="48.1" text-anchor="start" font-weight="normal" fill="#000" >00'</text>
<text x="1381.37" y="601.30" font-size="48.1" text-anchor="start" font-weight="normal" fill="#000" >359°30'</text>
<text x="88.83" y="163.60" font-size="48.1" text-anchor="start" font-weight="normal" fill="#000" >0°15'</text>
<text x="143.35" y="291.50" font-size="48.1" text-anchor="start" font-weight="normal" fill="#000" >00'</text>
<text x="71.35" y="419.40" font-size="48.1" text-anchor="start" font-weight="normal" fill="#000" >-0°15'</text>
<text x="740.99" y="672.10" font-size="47.9" text-anchor="start" font-weight="normal" fill="#000" textLength="448.68" lengthAdjust="spacing">Galactic Longitude</text>
<text x="36.70" y="479.81" font-size="47.9" text-anchor="start" font-weight="normal" fill="#000" transform="rotate(-90 36.70 479.81)" textLength="406.47" lengthAdjust="spacing">Galactic Latitude</text>
<text x="409.26" y="136.30" font-size="48.25" text-anchor="start" font-weight="bold" fill="#a000a0" textLength="291.60" lengthAdjust="spacing">R &gt; 100 pc</text>
<text x="771.48" y="136.30" font-size="48.25" text-anchor="start" font-weight="bold" fill="#00a0a0" textLength="283.80" lengthAdjust="spacing">Sgr B2 ext</text>
<text x="1125.96" y="136.30" font-size="48.25" text-anchor="start" font-weight="bold" fill="#a0a000" textLength="292.31" lengthAdjust="spacing">R &lt; 100 pc</text>
<text x="381.88" y="479.60" font-size="48.1" text-anchor="start" font-weight="normal" fill="#000" >100 pc</text>
<text x="1777.55" y="38.70" font-size="48.1" text-anchor="start" font-weight="normal" fill="#000" >35</text>
<text x="1777.44" y="141.00" font-size="48.1" text-anchor="start" font-weight="normal" fill="#000" >30</text>
<text x="1777.42" y="243.30" font-size="48.1" text-anchor="start" font-weight="normal" fill="#000" >25</text>
<text x="1777.30" y="345.60" font-size="48.1" text-anchor="start" font-weight="normal" fill="#000" >20</text>
<text x="1777.64" y="447.90" font-size="48.1" text-anchor="start" font-weight="normal" fill="#000" >15</text>
<text x="1777.62" y="550.00" font-size="48.1" text-anchor="start" font-weight="normal" fill="#000" >10</text>
<text x="1890.10" y="533.01" font-size="47.9" text-anchor="start" font-weight="normal" fill="#000" transform="rotate(-90 1890.10 533.01)" textLength="522.71" lengthAdjust="spacing">Dust Temperature [K]</text>
<text x="509.42" y="1389.50" font-size="48.9" text-anchor="start" font-weight="normal" fill="#000" >15</text>
<text x="815.60" y="1389.50" font-size="48.9" text-anchor="start" font-weight="normal" fill="#000" >20</text>
<text x="1122.52" y="1389.50" font-size="48.9" text-anchor="start" font-weight="normal" fill="#000" >25</text>
<text x="1429.83" y="1389.50" font-size="48.9" text-anchor="start" font-weight="normal" fill="#000" >30</text>
<text x="1736.65" y="1389.50" font-size="48.9" text-anchor="start" font-weight="normal" fill="#000" >35</text>
<text x="156.22" y="796.90" font-size="48.9" text-anchor="start" font-weight="normal" fill="#000" >1500</text>
<text x="156.22" y="983.80" font-size="48.9" text-anchor="start" font-weight="normal" fill="#000" >1000</text>
<text x="187.22" y="1170.70" font-size="48.9" text-anchor="start" font-weight="normal" fill="#000" >500</text>
<text x="769.60" y="1444.70" font-size="48.9" text-anchor="start" font-weight="normal" fill="#000" textLength="533.02" lengthAdjust="spacing">Dust Temperature [K]</text>
<text x="138.30" y="1245.40" font-size="48.9" text-anchor="start" font-weight="normal" fill="#000" transform="rotate(-90 138.30 1245.40)" textLength="413.45" lengthAdjust="spacing">Number of Pixels</text>
<text x="1451.42" y="822.90" font-size="48.9" text-anchor="start" font-weight="normal" fill="#000" >CMZ</text>
<text x="1450.93" y="894.30" font-size="48.9" text-anchor="start" font-weight="normal" fill="#000" >Sgr B2 ext</text>
<text x="1451.80" y="965.80" font-size="48.9" text-anchor="start" font-weight="normal" fill="#000" >R &lt; 100 pc</text>
<text x="1451.80" y="1037.50" font-size="48.9" text-anchor="start" font-weight="normal" fill="#000" >R &gt; 100 pc</text>
</g>
</svg>
</body>
</html>
